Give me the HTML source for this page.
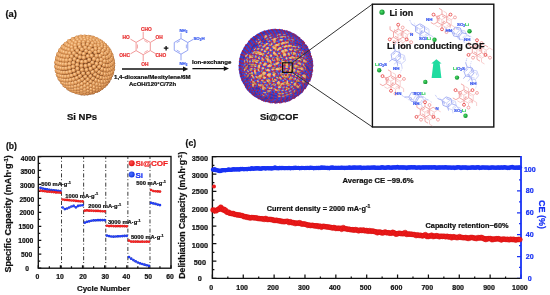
<!DOCTYPE html><html><head><meta charset="utf-8"><style>html,body{margin:0;padding:0;background:#fff;width:550px;height:295px;overflow:hidden}svg{display:block;filter:blur(0.3px)}text{font-family:"Liberation Sans",sans-serif;font-weight:bold}</style></head><body>
<svg width="550" height="295" viewBox="0 0 550 295">
<defs>
<radialGradient id="ballA" cx="42%" cy="38%" r="62%"><stop offset="0" stop-color="#fbd2a0"/><stop offset="0.45" stop-color="#eba868"/><stop offset="0.85" stop-color="#c88448"/><stop offset="1" stop-color="#9a5a2c"/></radialGradient>
<radialGradient id="ballB" cx="40%" cy="35%" r="65%"><stop offset="0" stop-color="#f8c88a"/><stop offset="0.6" stop-color="#e8a860"/><stop offset="1" stop-color="#b07040"/></radialGradient>
<radialGradient id="gdot" cx="40%" cy="40%" r="60%"><stop offset="0" stop-color="#4ee06a"/><stop offset="1" stop-color="#0a8a2a"/></radialGradient>
<radialGradient id="rdot" cx="40%" cy="40%" r="60%"><stop offset="0" stop-color="#ff5050"/><stop offset="1" stop-color="#e01010"/></radialGradient>
<radialGradient id="bdot" cx="40%" cy="40%" r="60%"><stop offset="0" stop-color="#4a70ff"/><stop offset="1" stop-color="#1030e0"/></radialGradient>
<radialGradient id="edgeC" cx="50%" cy="50%" r="50%"><stop offset="0.6" stop-color="#302080" stop-opacity="0"/><stop offset="0.93" stop-color="#302080" stop-opacity="0.15"/><stop offset="1" stop-color="#201070" stop-opacity="0.4"/></radialGradient>
<radialGradient id="mk_r" cx="50%" cy="50%" r="50%"><stop offset="0" stop-color="#ff3030"/><stop offset="0.7" stop-color="#f01818"/><stop offset="1" stop-color="#c01010"/></radialGradient>
<radialGradient id="mk_b" cx="50%" cy="50%" r="50%"><stop offset="0" stop-color="#3050ff"/><stop offset="0.7" stop-color="#1832f4"/><stop offset="1" stop-color="#1028b8"/></radialGradient>
</defs>
<rect width="550" height="295" fill="#fff"/>
<text x="5.5" y="17.2" font-size="9.3" fill="#111" stroke="#111" stroke-width="0.22">(a)</text>
<text x="6" y="148.6" font-size="8.6" fill="#111" stroke="#111" stroke-width="0.22">(b)</text>
<text x="185.6" y="145.5" font-size="8.6" fill="#111" stroke="#111" stroke-width="0.22">(c)</text>
<circle cx="84.7" cy="65" r="29.9" fill="#7a4522"/>
<circle cx="84.2" cy="93.4" r="2.2" fill="url(#ballA)"/>
<circle cx="63.0" cy="46.7" r="2.2" fill="url(#ballA)"/>
<circle cx="77.0" cy="37.7" r="2.2" fill="url(#ballA)"/>
<circle cx="59.5" cy="78.1" r="2.2" fill="url(#ballA)"/>
<circle cx="105.6" cy="84.2" r="2.2" fill="url(#ballA)"/>
<circle cx="113.0" cy="63.4" r="2.2" fill="url(#ballA)"/>
<circle cx="60.5" cy="50.2" r="2.2" fill="url(#ballA)"/>
<circle cx="98.2" cy="90.0" r="2.2" fill="url(#ballA)"/>
<circle cx="108.4" cy="49.4" r="2.2" fill="url(#ballA)"/>
<circle cx="104.9" cy="45.1" r="2.2" fill="url(#ballA)"/>
<circle cx="80.9" cy="36.8" r="2.2" fill="url(#ballA)"/>
<circle cx="93.3" cy="37.9" r="2.2" fill="url(#ballA)"/>
<circle cx="112.0" cy="72.8" r="2.2" fill="url(#ballA)"/>
<circle cx="58.5" cy="54.0" r="2.2" fill="url(#ballA)"/>
<circle cx="57.9" cy="74.5" r="2.2" fill="url(#ballA)"/>
<circle cx="57.2" cy="58.0" r="2.2" fill="url(#ballA)"/>
<circle cx="111.1" cy="54.4" r="2.2" fill="url(#ballA)"/>
<circle cx="56.8" cy="70.5" r="2.2" fill="url(#ballA)"/>
<circle cx="56.4" cy="62.2" r="2.2" fill="url(#ballA)"/>
<circle cx="100.8" cy="41.6" r="2.2" fill="url(#ballA)"/>
<circle cx="71.2" cy="90.0" r="2.2" fill="url(#ballA)"/>
<circle cx="56.3" cy="66.4" r="2.2" fill="url(#ballA)"/>
<circle cx="64.5" cy="85.0" r="2.2" fill="url(#ballA)"/>
<circle cx="107.9" cy="81.3" r="2.2" fill="url(#ballA)"/>
<circle cx="84.8" cy="36.6" r="2.2" fill="url(#ballA)"/>
<circle cx="92.9" cy="92.2" r="2.2" fill="url(#ballA)"/>
<circle cx="101.3" cy="88.1" r="2.2" fill="url(#ballA)"/>
<circle cx="112.8" cy="69.2" r="2.2" fill="url(#ballA)"/>
<circle cx="112.6" cy="59.9" r="2.2" fill="url(#ballA)"/>
<circle cx="76.2" cy="92.1" r="2.2" fill="url(#ballA)"/>
<circle cx="87.3" cy="93.3" r="2.2" fill="url(#ballA)"/>
<circle cx="96.4" cy="39.2" r="2.2" fill="url(#ballA)"/>
<circle cx="81.6" cy="93.2" r="2.2" fill="url(#ballA)"/>
<circle cx="62.1" cy="82.1" r="2.2" fill="url(#ballA)"/>
<circle cx="109.8" cy="78.1" r="2.2" fill="url(#ballA)"/>
<circle cx="88.6" cy="36.9" r="2.2" fill="url(#ballA)"/>
<circle cx="69.1" cy="41.3" r="2.2" fill="url(#ballA)"/>
<circle cx="68.4" cy="88.2" r="2.2" fill="url(#ballA)"/>
<circle cx="106.6" cy="47.1" r="2.2" fill="url(#ballA)"/>
<circle cx="72.8" cy="39.3" r="2.2" fill="url(#ballA)"/>
<circle cx="65.8" cy="43.9" r="2.2" fill="url(#ballA)"/>
<circle cx="109.6" cy="51.5" r="2.2" fill="url(#ballA)"/>
<circle cx="104.0" cy="85.7" r="2.2" fill="url(#ballA)"/>
<circle cx="96.1" cy="90.9" r="2.2" fill="url(#ballA)"/>
<circle cx="113.0" cy="65.5" r="2.2" fill="url(#ballA)"/>
<circle cx="62.9" cy="46.9" r="2.2" fill="url(#ballA)"/>
<circle cx="76.6" cy="37.9" r="2.2" fill="url(#ballA)"/>
<circle cx="60.0" cy="78.7" r="2.2" fill="url(#ballA)"/>
<circle cx="103.0" cy="43.4" r="2.2" fill="url(#ballA)"/>
<circle cx="60.5" cy="50.4" r="2.2" fill="url(#ballA)"/>
<circle cx="111.2" cy="74.7" r="2.2" fill="url(#ballA)"/>
<circle cx="111.6" cy="56.5" r="2.2" fill="url(#ballA)"/>
<circle cx="58.6" cy="54.2" r="2.2" fill="url(#ballA)"/>
<circle cx="80.4" cy="37.1" r="2.2" fill="url(#ballA)"/>
<circle cx="58.4" cy="75.0" r="2.2" fill="url(#ballA)"/>
<circle cx="91.9" cy="37.8" r="2.2" fill="url(#ballA)"/>
<circle cx="73.3" cy="90.7" r="2.2" fill="url(#ballA)"/>
<circle cx="57.3" cy="58.3" r="2.2" fill="url(#ballA)"/>
<circle cx="90.5" cy="92.5" r="2.2" fill="url(#ballA)"/>
<circle cx="57.2" cy="71.0" r="2.2" fill="url(#ballA)"/>
<circle cx="106.4" cy="82.9" r="2.2" fill="url(#ballA)"/>
<circle cx="98.9" cy="40.7" r="2.2" fill="url(#ballA)"/>
<circle cx="56.7" cy="62.5" r="2.2" fill="url(#ballA)"/>
<circle cx="56.6" cy="66.8" r="2.2" fill="url(#ballA)"/>
<circle cx="65.7" cy="85.8" r="2.2" fill="url(#ballA)"/>
<circle cx="99.2" cy="89.0" r="2.2" fill="url(#ballA)"/>
<circle cx="78.7" cy="92.4" r="2.2" fill="url(#ballA)"/>
<circle cx="84.6" cy="93.1" r="2.2" fill="url(#ballA)"/>
<circle cx="112.6" cy="61.9" r="2.2" fill="url(#ballA)"/>
<circle cx="84.2" cy="37.0" r="2.2" fill="url(#ballA)"/>
<circle cx="112.1" cy="71.1" r="2.2" fill="url(#ballA)"/>
<circle cx="108.4" cy="79.7" r="2.2" fill="url(#ballA)"/>
<circle cx="107.6" cy="49.1" r="2.2" fill="url(#ballA)"/>
<circle cx="63.3" cy="82.8" r="2.2" fill="url(#ballA)"/>
<circle cx="94.8" cy="39.1" r="2.2" fill="url(#ballA)"/>
<circle cx="110.0" cy="53.5" r="2.2" fill="url(#ballA)"/>
<circle cx="70.4" cy="88.8" r="2.2" fill="url(#ballA)"/>
<circle cx="104.4" cy="45.4" r="2.2" fill="url(#ballA)"/>
<circle cx="93.6" cy="91.3" r="2.2" fill="url(#ballA)"/>
<circle cx="102.0" cy="86.7" r="2.2" fill="url(#ballA)"/>
<circle cx="87.8" cy="37.4" r="2.2" fill="url(#ballA)"/>
<circle cx="112.3" cy="67.3" r="2.2" fill="url(#ballA)"/>
<circle cx="69.5" cy="41.9" r="2.2" fill="url(#ballA)"/>
<circle cx="66.2" cy="44.4" r="2.2" fill="url(#ballA)"/>
<circle cx="73.0" cy="39.9" r="2.2" fill="url(#ballA)"/>
<circle cx="63.4" cy="47.4" r="2.2" fill="url(#ballA)"/>
<circle cx="61.1" cy="79.4" r="2.2" fill="url(#ballA)"/>
<circle cx="111.5" cy="58.4" r="2.2" fill="url(#ballA)"/>
<circle cx="109.9" cy="76.3" r="2.2" fill="url(#ballA)"/>
<circle cx="100.8" cy="42.6" r="2.2" fill="url(#ballA)"/>
<circle cx="61.1" cy="50.9" r="2.2" fill="url(#ballA)"/>
<circle cx="75.7" cy="91.0" r="2.2" fill="url(#ballA)"/>
<circle cx="87.7" cy="92.4" r="2.2" fill="url(#ballA)"/>
<circle cx="76.7" cy="38.6" r="2.2" fill="url(#ballA)"/>
<circle cx="81.6" cy="92.3" r="2.2" fill="url(#ballA)"/>
<circle cx="59.3" cy="54.7" r="2.2" fill="url(#ballA)"/>
<circle cx="59.4" cy="75.6" r="2.2" fill="url(#ballA)"/>
<circle cx="104.4" cy="84.0" r="2.2" fill="url(#ballA)"/>
<circle cx="58.1" cy="58.8" r="2.2" fill="url(#ballA)"/>
<circle cx="67.6" cy="86.3" r="2.2" fill="url(#ballA)"/>
<circle cx="58.2" cy="71.5" r="2.2" fill="url(#ballA)"/>
<circle cx="80.5" cy="38.0" r="2.2" fill="url(#ballA)"/>
<circle cx="96.7" cy="89.5" r="2.2" fill="url(#ballA)"/>
<circle cx="57.5" cy="63.0" r="2.2" fill="url(#ballA)"/>
<circle cx="57.5" cy="67.3" r="2.2" fill="url(#ballA)"/>
<circle cx="111.9" cy="63.6" r="2.2" fill="url(#ballA)"/>
<circle cx="90.9" cy="38.5" r="2.2" fill="url(#ballA)"/>
<circle cx="110.8" cy="72.6" r="2.2" fill="url(#ballA)"/>
<circle cx="97.0" cy="40.9" r="2.2" fill="url(#ballA)"/>
<circle cx="107.7" cy="50.9" r="2.2" fill="url(#ballA)"/>
<circle cx="106.5" cy="80.8" r="2.2" fill="url(#ballA)"/>
<circle cx="84.1" cy="38.1" r="2.2" fill="url(#ballA)"/>
<circle cx="65.0" cy="83.3" r="2.2" fill="url(#ballA)"/>
<circle cx="72.8" cy="89.1" r="2.2" fill="url(#ballA)"/>
<circle cx="90.8" cy="91.2" r="2.2" fill="url(#ballA)"/>
<circle cx="105.0" cy="47.3" r="2.2" fill="url(#ballA)"/>
<circle cx="109.7" cy="55.2" r="2.2" fill="url(#ballA)"/>
<circle cx="99.5" cy="87.3" r="2.2" fill="url(#ballA)"/>
<circle cx="84.7" cy="91.6" r="2.2" fill="url(#ballA)"/>
<circle cx="111.1" cy="68.8" r="2.2" fill="url(#ballA)"/>
<circle cx="78.5" cy="90.9" r="2.2" fill="url(#ballA)"/>
<circle cx="101.7" cy="44.6" r="2.2" fill="url(#ballA)"/>
<circle cx="62.8" cy="79.9" r="2.2" fill="url(#ballA)"/>
<circle cx="110.7" cy="60.0" r="2.2" fill="url(#ballA)"/>
<circle cx="67.2" cy="45.1" r="2.2" fill="url(#ballA)"/>
<circle cx="70.4" cy="42.7" r="2.2" fill="url(#ballA)"/>
<circle cx="108.0" cy="77.4" r="2.2" fill="url(#ballA)"/>
<circle cx="64.5" cy="48.1" r="2.2" fill="url(#ballA)"/>
<circle cx="73.9" cy="41.0" r="2.2" fill="url(#ballA)"/>
<circle cx="93.4" cy="40.2" r="2.2" fill="url(#ballA)"/>
<circle cx="62.2" cy="51.5" r="2.2" fill="url(#ballA)"/>
<circle cx="87.5" cy="38.9" r="2.2" fill="url(#ballA)"/>
<circle cx="69.9" cy="86.6" r="2.2" fill="url(#ballA)"/>
<circle cx="61.0" cy="76.1" r="2.2" fill="url(#ballA)"/>
<circle cx="102.0" cy="84.6" r="2.2" fill="url(#ballA)"/>
<circle cx="93.9" cy="89.5" r="2.2" fill="url(#ballA)"/>
<circle cx="60.4" cy="55.3" r="2.2" fill="url(#ballA)"/>
<circle cx="77.6" cy="39.9" r="2.2" fill="url(#ballA)"/>
<circle cx="59.3" cy="59.3" r="2.2" fill="url(#ballA)"/>
<circle cx="59.7" cy="72.0" r="2.2" fill="url(#ballA)"/>
<circle cx="58.8" cy="63.5" r="2.2" fill="url(#ballA)"/>
<circle cx="110.6" cy="64.9" r="2.2" fill="url(#ballA)"/>
<circle cx="58.9" cy="67.8" r="2.2" fill="url(#ballA)"/>
<circle cx="98.3" cy="43.0" r="2.2" fill="url(#ballA)"/>
<circle cx="109.0" cy="73.7" r="2.2" fill="url(#ballA)"/>
<circle cx="75.5" cy="89.0" r="2.2" fill="url(#ballA)"/>
<circle cx="87.8" cy="90.5" r="2.2" fill="url(#ballA)"/>
<circle cx="81.4" cy="39.6" r="2.2" fill="url(#ballA)"/>
<circle cx="107.0" cy="52.5" r="2.2" fill="url(#ballA)"/>
<circle cx="81.5" cy="90.3" r="2.2" fill="url(#ballA)"/>
<circle cx="67.2" cy="83.6" r="2.2" fill="url(#ballA)"/>
<circle cx="104.2" cy="81.5" r="2.2" fill="url(#ballA)"/>
<circle cx="104.5" cy="49.1" r="2.2" fill="url(#ballA)"/>
<circle cx="108.6" cy="56.6" r="2.2" fill="url(#ballA)"/>
<circle cx="96.7" cy="87.3" r="2.2" fill="url(#ballA)"/>
<circle cx="109.3" cy="69.8" r="2.2" fill="url(#ballA)"/>
<circle cx="90.4" cy="40.6" r="2.2" fill="url(#ballA)"/>
<circle cx="64.9" cy="80.2" r="2.2" fill="url(#ballA)"/>
<circle cx="109.3" cy="61.1" r="2.2" fill="url(#ballA)"/>
<circle cx="101.5" cy="46.7" r="2.2" fill="url(#ballA)"/>
<circle cx="105.8" cy="78.0" r="2.2" fill="url(#ballA)"/>
<circle cx="95.1" cy="42.5" r="2.2" fill="url(#ballA)"/>
<circle cx="85.0" cy="40.2" r="2.2" fill="url(#ballA)"/>
<circle cx="72.5" cy="86.5" r="2.2" fill="url(#ballA)"/>
<circle cx="90.8" cy="88.9" r="2.2" fill="url(#ballA)"/>
<circle cx="69.0" cy="46.0" r="2.2" fill="url(#ballA)"/>
<circle cx="66.2" cy="48.8" r="2.2" fill="url(#ballA)"/>
<circle cx="72.2" cy="43.9" r="2.2" fill="url(#ballA)"/>
<circle cx="99.3" cy="84.7" r="2.2" fill="url(#ballA)"/>
<circle cx="63.0" cy="76.4" r="2.2" fill="url(#ballA)"/>
<circle cx="63.9" cy="52.1" r="2.2" fill="url(#ballA)"/>
<circle cx="75.8" cy="42.4" r="2.2" fill="url(#ballA)"/>
<circle cx="78.4" cy="88.5" r="2.2" fill="url(#ballA)"/>
<circle cx="84.6" cy="89.3" r="2.2" fill="url(#ballA)"/>
<circle cx="62.2" cy="55.8" r="2.2" fill="url(#ballA)"/>
<circle cx="61.7" cy="72.4" r="2.2" fill="url(#ballA)"/>
<circle cx="61.1" cy="59.8" r="2.2" fill="url(#ballA)"/>
<circle cx="108.8" cy="65.7" r="2.2" fill="url(#ballA)"/>
<circle cx="60.9" cy="68.2" r="2.2" fill="url(#ballA)"/>
<circle cx="60.7" cy="64.0" r="2.2" fill="url(#ballA)"/>
<circle cx="106.8" cy="74.2" r="2.2" fill="url(#ballA)"/>
<circle cx="69.8" cy="83.6" r="2.2" fill="url(#ballA)"/>
<circle cx="98.3" cy="45.5" r="2.2" fill="url(#ballA)"/>
<circle cx="79.6" cy="41.8" r="2.2" fill="url(#ballA)"/>
<circle cx="101.5" cy="81.6" r="2.2" fill="url(#ballA)"/>
<circle cx="93.7" cy="86.8" r="2.2" fill="url(#ballA)"/>
<circle cx="105.2" cy="53.6" r="2.2" fill="url(#ballA)"/>
<circle cx="106.8" cy="57.4" r="2.2" fill="url(#ballA)"/>
<circle cx="88.3" cy="42.0" r="2.2" fill="url(#ballA)"/>
<circle cx="102.8" cy="50.6" r="2.2" fill="url(#ballA)"/>
<circle cx="107.2" cy="70.2" r="2.2" fill="url(#ballA)"/>
<circle cx="75.4" cy="86.1" r="2.2" fill="url(#ballA)"/>
<circle cx="92.5" cy="43.3" r="2.2" fill="url(#ballA)"/>
<circle cx="67.5" cy="80.2" r="2.2" fill="url(#ballA)"/>
<circle cx="87.7" cy="87.7" r="2.2" fill="url(#ballA)"/>
<circle cx="107.2" cy="61.5" r="2.2" fill="url(#ballA)"/>
<circle cx="83.5" cy="42.3" r="2.2" fill="url(#ballA)"/>
<circle cx="103.3" cy="78.1" r="2.2" fill="url(#ballA)"/>
<circle cx="81.5" cy="87.5" r="2.2" fill="url(#ballA)"/>
<circle cx="96.4" cy="84.2" r="2.2" fill="url(#ballA)"/>
<circle cx="65.5" cy="76.5" r="2.2" fill="url(#ballA)"/>
<circle cx="68.7" cy="49.6" r="2.2" fill="url(#ballA)"/>
<circle cx="71.7" cy="47.1" r="2.2" fill="url(#ballA)"/>
<circle cx="99.6" cy="48.7" r="2.2" fill="url(#ballA)"/>
<circle cx="66.4" cy="52.7" r="2.2" fill="url(#ballA)"/>
<circle cx="75.1" cy="45.3" r="2.2" fill="url(#ballA)"/>
<circle cx="64.1" cy="72.5" r="2.2" fill="url(#ballA)"/>
<circle cx="64.6" cy="56.3" r="2.2" fill="url(#ballA)"/>
<circle cx="95.2" cy="45.8" r="2.2" fill="url(#ballA)"/>
<circle cx="106.5" cy="65.8" r="2.2" fill="url(#ballA)"/>
<circle cx="72.7" cy="83.2" r="2.2" fill="url(#ballA)"/>
<circle cx="63.5" cy="60.2" r="2.2" fill="url(#ballA)"/>
<circle cx="104.4" cy="74.2" r="2.2" fill="url(#ballA)"/>
<circle cx="63.3" cy="68.4" r="2.2" fill="url(#ballA)"/>
<circle cx="63.1" cy="64.3" r="2.2" fill="url(#ballA)"/>
<circle cx="90.7" cy="85.7" r="2.2" fill="url(#ballA)"/>
<circle cx="79.0" cy="44.4" r="2.2" fill="url(#ballA)"/>
<circle cx="98.7" cy="81.1" r="2.2" fill="url(#ballA)"/>
<circle cx="78.5" cy="85.2" r="2.2" fill="url(#ballA)"/>
<circle cx="84.6" cy="86.0" r="2.2" fill="url(#ballA)"/>
<circle cx="87.5" cy="44.4" r="2.2" fill="url(#ballA)"/>
<circle cx="104.0" cy="57.3" r="2.2" fill="url(#ballA)"/>
<circle cx="70.3" cy="79.9" r="2.2" fill="url(#ballA)"/>
<circle cx="102.1" cy="53.9" r="2.2" fill="url(#ballA)"/>
<circle cx="104.7" cy="69.9" r="2.2" fill="url(#ballA)"/>
<circle cx="83.5" cy="44.8" r="2.2" fill="url(#ballA)"/>
<circle cx="100.5" cy="77.6" r="2.2" fill="url(#ballA)"/>
<circle cx="104.5" cy="61.2" r="2.2" fill="url(#ballA)"/>
<circle cx="91.0" cy="45.9" r="2.2" fill="url(#ballA)"/>
<circle cx="93.4" cy="83.1" r="2.2" fill="url(#ballA)"/>
<circle cx="68.4" cy="76.2" r="2.2" fill="url(#ballA)"/>
<circle cx="98.8" cy="51.4" r="2.2" fill="url(#ballA)"/>
<circle cx="95.6" cy="48.8" r="2.2" fill="url(#ballA)"/>
<circle cx="75.8" cy="82.4" r="2.2" fill="url(#ballA)"/>
<circle cx="87.6" cy="84.0" r="2.2" fill="url(#ballA)"/>
<circle cx="72.3" cy="50.3" r="2.2" fill="url(#ballA)"/>
<circle cx="67.0" cy="72.4" r="2.2" fill="url(#ballA)"/>
<circle cx="103.9" cy="65.1" r="2.2" fill="url(#ballA)"/>
<circle cx="69.6" cy="53.2" r="2.2" fill="url(#ballA)"/>
<circle cx="75.6" cy="48.2" r="2.2" fill="url(#ballA)"/>
<circle cx="81.7" cy="83.8" r="2.2" fill="url(#ballA)"/>
<circle cx="101.7" cy="73.5" r="2.2" fill="url(#ballA)"/>
<circle cx="67.7" cy="56.5" r="2.2" fill="url(#ballA)"/>
<circle cx="66.1" cy="68.3" r="2.2" fill="url(#ballA)"/>
<circle cx="66.5" cy="60.3" r="2.2" fill="url(#ballA)"/>
<circle cx="66.0" cy="64.3" r="2.2" fill="url(#ballA)"/>
<circle cx="95.8" cy="80.0" r="2.2" fill="url(#ballA)"/>
<circle cx="79.8" cy="47.0" r="2.2" fill="url(#ballA)"/>
<circle cx="73.4" cy="79.1" r="2.2" fill="url(#ballA)"/>
<circle cx="102.0" cy="68.9" r="2.2" fill="url(#ballA)"/>
<circle cx="99.9" cy="55.9" r="2.2" fill="url(#ballA)"/>
<circle cx="90.5" cy="81.5" r="2.2" fill="url(#ballA)"/>
<circle cx="85.3" cy="47.6" r="2.2" fill="url(#ballA)"/>
<circle cx="101.2" cy="59.6" r="2.2" fill="url(#ballA)"/>
<circle cx="89.3" cy="48.3" r="2.2" fill="url(#ballA)"/>
<circle cx="97.8" cy="76.4" r="2.2" fill="url(#ballA)"/>
<circle cx="79.0" cy="81.0" r="2.2" fill="url(#ballA)"/>
<circle cx="71.5" cy="75.6" r="2.2" fill="url(#ballA)"/>
<circle cx="84.8" cy="81.8" r="2.2" fill="url(#ballA)"/>
<circle cx="92.4" cy="50.1" r="2.2" fill="url(#ballA)"/>
<circle cx="95.5" cy="52.4" r="2.2" fill="url(#ballA)"/>
<circle cx="100.9" cy="63.4" r="2.2" fill="url(#ballA)"/>
<circle cx="70.1" cy="71.8" r="2.2" fill="url(#ballA)"/>
<circle cx="77.3" cy="50.8" r="2.2" fill="url(#ballA)"/>
<circle cx="99.0" cy="72.1" r="2.2" fill="url(#ballA)"/>
<circle cx="74.0" cy="53.3" r="2.2" fill="url(#ballA)"/>
<circle cx="82.0" cy="49.4" r="2.2" fill="url(#ballA)"/>
<circle cx="93.0" cy="78.4" r="2.2" fill="url(#ballA)"/>
<circle cx="71.6" cy="56.4" r="2.2" fill="url(#ballA)"/>
<circle cx="69.4" cy="67.8" r="2.2" fill="url(#ballA)"/>
<circle cx="70.1" cy="60.0" r="2.2" fill="url(#ballA)"/>
<circle cx="69.4" cy="63.9" r="2.2" fill="url(#ballA)"/>
<circle cx="76.7" cy="77.9" r="2.2" fill="url(#ballA)"/>
<circle cx="96.5" cy="55.9" r="2.2" fill="url(#ballA)"/>
<circle cx="99.2" cy="66.9" r="2.2" fill="url(#ballA)"/>
<circle cx="87.7" cy="79.3" r="2.2" fill="url(#ballA)"/>
<circle cx="82.2" cy="79.1" r="2.2" fill="url(#ballA)"/>
<circle cx="95.1" cy="74.5" r="2.2" fill="url(#ballA)"/>
<circle cx="86.2" cy="51.1" r="2.2" fill="url(#ballA)"/>
<circle cx="97.6" cy="60.2" r="2.2" fill="url(#ballA)"/>
<circle cx="74.9" cy="74.4" r="2.2" fill="url(#ballA)"/>
<circle cx="89.8" cy="52.5" r="2.2" fill="url(#ballA)"/>
<circle cx="80.1" cy="52.9" r="2.2" fill="url(#ballA)"/>
<circle cx="96.4" cy="69.9" r="2.2" fill="url(#ballA)"/>
<circle cx="90.4" cy="76.1" r="2.2" fill="url(#ballA)"/>
<circle cx="73.6" cy="70.6" r="2.2" fill="url(#ballA)"/>
<circle cx="76.6" cy="55.7" r="2.2" fill="url(#ballA)"/>
<circle cx="80.0" cy="76.0" r="2.2" fill="url(#ballA)"/>
<circle cx="96.6" cy="63.9" r="2.2" fill="url(#ballA)"/>
<circle cx="74.5" cy="59.1" r="2.2" fill="url(#ballA)"/>
<circle cx="73.1" cy="66.8" r="2.2" fill="url(#ballA)"/>
<circle cx="85.3" cy="76.6" r="2.2" fill="url(#ballA)"/>
<circle cx="91.7" cy="55.8" r="2.2" fill="url(#ballA)"/>
<circle cx="73.4" cy="62.9" r="2.2" fill="url(#ballA)"/>
<circle cx="83.9" cy="53.9" r="2.2" fill="url(#ballA)"/>
<circle cx="94.1" cy="59.0" r="2.2" fill="url(#ballA)"/>
<circle cx="92.6" cy="72.0" r="2.2" fill="url(#ballA)"/>
<circle cx="78.4" cy="72.5" r="2.2" fill="url(#ballA)"/>
<circle cx="94.1" cy="66.8" r="2.2" fill="url(#ballA)"/>
<circle cx="87.9" cy="56.3" r="2.2" fill="url(#ballA)"/>
<circle cx="80.0" cy="57.3" r="2.2" fill="url(#ballA)"/>
<circle cx="88.2" cy="73.2" r="2.2" fill="url(#ballA)"/>
<circle cx="83.3" cy="73.4" r="2.2" fill="url(#ballA)"/>
<circle cx="77.4" cy="68.8" r="2.2" fill="url(#ballA)"/>
<circle cx="92.4" cy="62.6" r="2.2" fill="url(#ballA)"/>
<circle cx="78.0" cy="61.0" r="2.2" fill="url(#ballA)"/>
<circle cx="77.2" cy="64.9" r="2.2" fill="url(#ballA)"/>
<circle cx="83.8" cy="57.7" r="2.2" fill="url(#ballA)"/>
<circle cx="90.6" cy="68.8" r="2.2" fill="url(#ballA)"/>
<circle cx="89.2" cy="59.9" r="2.2" fill="url(#ballA)"/>
<circle cx="82.0" cy="69.9" r="2.2" fill="url(#ballA)"/>
<circle cx="86.5" cy="69.9" r="2.2" fill="url(#ballA)"/>
<circle cx="89.4" cy="64.9" r="2.2" fill="url(#ballA)"/>
<circle cx="81.9" cy="61.9" r="2.2" fill="url(#ballA)"/>
<circle cx="85.7" cy="61.6" r="2.2" fill="url(#ballA)"/>
<circle cx="81.4" cy="66.0" r="2.2" fill="url(#ballA)"/>
<circle cx="85.6" cy="66.0" r="2.2" fill="url(#ballA)"/>
<text x="67.0" y="119.8" font-size="9.5" fill="#111" stroke="#111" stroke-width="0.22">Si NPs</text>
<path d="M143.20 38.30L150.30 42.40L150.30 50.60L143.20 54.70L136.10 50.60L136.10 42.40Z" stroke="#f29a9a" stroke-width="1.0" fill="none"/>
<path d="M144.34 40.56L147.77 42.54M147.77 50.46L144.34 52.44M137.48 48.48L137.48 44.52" stroke="#f29a9a" stroke-width="0.85" fill="none"/>
<path d="M143.20 38.30L143.20 31.80M150.30 42.40L155.93 39.15M150.30 50.60L155.93 53.85M143.20 54.70L143.20 61.20M136.10 50.60L130.47 53.85M136.10 42.40L130.47 39.15" stroke="#f29a9a" stroke-width="1.0" fill="none"/>
<g font-size="4.8" fill="#e83030" stroke="#e83030" stroke-width="0.22"><text x="141" y="30.6">CHO</text><text x="122.6" y="39.4">HO</text><text x="155.6" y="39.4">OH</text><text x="119.2" y="56.5">OHC</text><text x="155.6" y="56.5">CHO</text><text x="141.3" y="65.5">OH</text></g>
<path d="M163.8 48.2H168.4M166.1 45.9V50.5" stroke="#111" stroke-width="1.3"/>
<path d="M181.00 38.60L187.75 42.50L187.75 50.30L181.00 54.20L174.25 50.30L174.25 42.50Z" stroke="#8899f2" stroke-width="0.9" fill="none"/>
<path d="M186.37 44.54L186.37 48.26M179.93 51.98L176.70 50.12M176.70 42.68L179.93 40.82" stroke="#8899f2" stroke-width="0.8" fill="none"/>
<path d="M181 38.6V33M187.75 42.5L193 39.5M181 54.2V60.3" stroke="#8899f2" stroke-width="0.9" fill="none"/>
<g font-size="4.4" fill="#3a5cf0" stroke="#3a5cf0" stroke-width="0.22"><text x="179.4" y="32.2">NH<tspan font-size="3" dy="0.8">2</tspan></text><text x="193.4" y="40.3">SO<tspan font-size="3" dy="0.8">3</tspan><tspan dy="-0.8">H</tspan></text><text x="179.4" y="65">NH<tspan font-size="3" dy="0.8">2</tspan></text></g>
<path d="M122 69H184.5" stroke="#111" stroke-width="1.3"/><path d="M183 66.6L188.3 69L183 71.4Z" fill="#111"/>
<path d="M192.4 68.6H225" stroke="#111" stroke-width="1.3"/><path d="M223.8 66.3L229 68.6L223.8 70.9Z" fill="#111"/>
<text x="114" y="78.7" font-size="6.1" fill="#111" stroke="#111" stroke-width="0.22">1,4-dioxane/Mesitylene/6M</text>
<text x="129" y="85.6" font-size="6" fill="#111" stroke="#111" stroke-width="0.22">AcOH/120°C/72h</text>
<text x="192.1" y="63.8" font-size="6.1" fill="#111" stroke="#111" stroke-width="0.22">Ion-exchange</text>
<circle cx="276" cy="66.2" r="36.8" fill="#3a36b0"/>
<circle cx="284.3" cy="36.5" r="2.55" fill="url(#ballB)"/>
<circle cx="258.3" cy="41.0" r="2.55" fill="url(#ballB)"/>
<circle cx="263.6" cy="94.3" r="2.55" fill="url(#ballB)"/>
<circle cx="246.6" cy="75.1" r="2.55" fill="url(#ballB)"/>
<circle cx="302.9" cy="80.9" r="2.55" fill="url(#ballB)"/>
<circle cx="292.0" cy="40.1" r="2.55" fill="url(#ballB)"/>
<circle cx="290.2" cy="93.2" r="2.55" fill="url(#ballB)"/>
<circle cx="245.8" cy="70.5" r="2.55" fill="url(#ballB)"/>
<circle cx="245.6" cy="65.9" r="2.55" fill="url(#ballB)"/>
<circle cx="283.8" cy="95.6" r="2.55" fill="url(#ballB)"/>
<circle cx="266.5" cy="37.4" r="2.55" fill="url(#ballB)"/>
<circle cx="246.2" cy="61.4" r="2.55" fill="url(#ballB)"/>
<circle cx="247.5" cy="56.4" r="2.55" fill="url(#ballB)"/>
<circle cx="298.7" cy="86.0" r="2.55" fill="url(#ballB)"/>
<circle cx="279.1" cy="36.2" r="2.55" fill="url(#ballB)"/>
<circle cx="287.3" cy="38.3" r="2.55" fill="url(#ballB)"/>
<circle cx="304.0" cy="76.9" r="2.55" fill="url(#ballB)"/>
<circle cx="305.4" cy="60.7" r="2.55" fill="url(#ballB)"/>
<circle cx="293.2" cy="90.6" r="2.55" fill="url(#ballB)"/>
<circle cx="270.9" cy="36.8" r="2.55" fill="url(#ballB)"/>
<circle cx="266.5" cy="94.1" r="2.55" fill="url(#ballB)"/>
<circle cx="279.9" cy="95.3" r="2.55" fill="url(#ballB)"/>
<circle cx="286.8" cy="93.5" r="2.55" fill="url(#ballB)"/>
<circle cx="282.3" cy="37.7" r="2.55" fill="url(#ballB)"/>
<circle cx="254.2" cy="85.0" r="2.55" fill="url(#ballB)"/>
<circle cx="301.3" cy="52.6" r="2.55" fill="url(#ballB)"/>
<circle cx="303.3" cy="57.1" r="2.55" fill="url(#ballB)"/>
<circle cx="298.0" cy="48.0" r="2.55" fill="url(#ballB)"/>
<circle cx="249.1" cy="57.0" r="2.55" fill="url(#ballB)"/>
<circle cx="289.9" cy="90.8" r="2.55" fill="url(#ballB)"/>
<circle cx="252.2" cy="81.2" r="2.55" fill="url(#ballB)"/>
<circle cx="283.4" cy="93.2" r="2.55" fill="url(#ballB)"/>
<circle cx="303.7" cy="68.5" r="2.55" fill="url(#ballB)"/>
<circle cx="271.0" cy="39.1" r="2.55" fill="url(#ballB)"/>
<circle cx="260.4" cy="43.7" r="2.55" fill="url(#ballB)"/>
<circle cx="292.6" cy="87.6" r="2.55" fill="url(#ballB)"/>
<circle cx="249.6" cy="71.9" r="2.55" fill="url(#ballB)"/>
<circle cx="286.3" cy="90.7" r="2.55" fill="url(#ballB)"/>
<circle cx="302.3" cy="64.7" r="2.55" fill="url(#ballB)"/>
<circle cx="250.0" cy="62.5" r="2.55" fill="url(#ballB)"/>
<circle cx="298.7" cy="79.4" r="2.55" fill="url(#ballB)"/>
<circle cx="280.0" cy="92.1" r="2.55" fill="url(#ballB)"/>
<circle cx="275.1" cy="40.0" r="2.55" fill="url(#ballB)"/>
<circle cx="281.5" cy="40.6" r="2.55" fill="url(#ballB)"/>
<circle cx="251.1" cy="58.5" r="2.55" fill="url(#ballB)"/>
<circle cx="254.6" cy="80.9" r="2.55" fill="url(#ballB)"/>
<circle cx="253.1" cy="54.2" r="2.55" fill="url(#ballB)"/>
<circle cx="262.9" cy="88.3" r="2.55" fill="url(#ballB)"/>
<circle cx="294.5" cy="84.0" r="2.55" fill="url(#ballB)"/>
<circle cx="294.1" cy="48.1" r="2.55" fill="url(#ballB)"/>
<circle cx="301.3" cy="69.8" r="2.55" fill="url(#ballB)"/>
<circle cx="286.5" cy="42.9" r="2.55" fill="url(#ballB)"/>
<circle cx="255.8" cy="50.6" r="2.55" fill="url(#ballB)"/>
<circle cx="269.0" cy="41.7" r="2.55" fill="url(#ballB)"/>
<circle cx="253.1" cy="76.7" r="2.55" fill="url(#ballB)"/>
<circle cx="288.9" cy="87.4" r="2.55" fill="url(#ballB)"/>
<circle cx="259.3" cy="47.8" r="2.55" fill="url(#ballB)"/>
<circle cx="269.4" cy="90.1" r="2.55" fill="url(#ballB)"/>
<circle cx="299.0" cy="75.2" r="2.55" fill="url(#ballB)"/>
<circle cx="282.8" cy="89.6" r="2.55" fill="url(#ballB)"/>
<circle cx="252.5" cy="72.2" r="2.55" fill="url(#ballB)"/>
<circle cx="276.0" cy="90.5" r="2.55" fill="url(#ballB)"/>
<circle cx="260.3" cy="84.7" r="2.55" fill="url(#ballB)"/>
<circle cx="289.8" cy="46.3" r="2.55" fill="url(#ballB)"/>
<circle cx="273.2" cy="42.3" r="2.55" fill="url(#ballB)"/>
<circle cx="252.0" cy="67.9" r="2.55" fill="url(#ballB)"/>
<circle cx="295.6" cy="79.9" r="2.55" fill="url(#ballB)"/>
<circle cx="299.3" cy="60.7" r="2.55" fill="url(#ballB)"/>
<circle cx="278.4" cy="42.4" r="2.55" fill="url(#ballB)"/>
<circle cx="263.4" cy="46.0" r="2.55" fill="url(#ballB)"/>
<circle cx="297.4" cy="55.9" r="2.55" fill="url(#ballB)"/>
<circle cx="283.3" cy="43.7" r="2.55" fill="url(#ballB)"/>
<circle cx="299.5" cy="65.2" r="2.55" fill="url(#ballB)"/>
<circle cx="295.0" cy="52.5" r="2.55" fill="url(#ballB)"/>
<circle cx="257.7" cy="80.9" r="2.55" fill="url(#ballB)"/>
<circle cx="253.0" cy="62.9" r="2.55" fill="url(#ballB)"/>
<circle cx="291.0" cy="83.9" r="2.55" fill="url(#ballB)"/>
<circle cx="266.2" cy="86.9" r="2.55" fill="url(#ballB)"/>
<circle cx="254.4" cy="58.9" r="2.55" fill="url(#ballB)"/>
<circle cx="298.4" cy="70.4" r="2.55" fill="url(#ballB)"/>
<circle cx="267.7" cy="44.9" r="2.55" fill="url(#ballB)"/>
<circle cx="286.0" cy="86.4" r="2.55" fill="url(#ballB)"/>
<circle cx="256.5" cy="55.3" r="2.55" fill="url(#ballB)"/>
<circle cx="272.8" cy="88.2" r="2.55" fill="url(#ballB)"/>
<circle cx="279.2" cy="88.1" r="2.55" fill="url(#ballB)"/>
<circle cx="256.4" cy="76.5" r="2.55" fill="url(#ballB)"/>
<circle cx="296.0" cy="75.3" r="2.55" fill="url(#ballB)"/>
<circle cx="291.1" cy="50.4" r="2.55" fill="url(#ballB)"/>
<circle cx="259.6" cy="52.1" r="2.55" fill="url(#ballB)"/>
<circle cx="263.6" cy="83.7" r="2.55" fill="url(#ballB)"/>
<circle cx="285.8" cy="47.1" r="2.55" fill="url(#ballB)"/>
<circle cx="255.7" cy="72.0" r="2.55" fill="url(#ballB)"/>
<circle cx="272.8" cy="45.6" r="2.55" fill="url(#ballB)"/>
<circle cx="263.3" cy="49.7" r="2.55" fill="url(#ballB)"/>
<circle cx="277.3" cy="45.5" r="2.55" fill="url(#ballB)"/>
<circle cx="292.4" cy="78.8" r="2.55" fill="url(#ballB)"/>
<circle cx="255.7" cy="67.6" r="2.55" fill="url(#ballB)"/>
<circle cx="295.6" cy="61.0" r="2.55" fill="url(#ballB)"/>
<circle cx="288.0" cy="82.5" r="2.55" fill="url(#ballB)"/>
<circle cx="296.2" cy="65.3" r="2.55" fill="url(#ballB)"/>
<circle cx="269.6" cy="85.3" r="2.55" fill="url(#ballB)"/>
<circle cx="293.6" cy="56.8" r="2.55" fill="url(#ballB)"/>
<circle cx="261.6" cy="79.9" r="2.55" fill="url(#ballB)"/>
<circle cx="282.4" cy="84.7" r="2.55" fill="url(#ballB)"/>
<circle cx="276.1" cy="85.8" r="2.55" fill="url(#ballB)"/>
<circle cx="281.1" cy="47.3" r="2.55" fill="url(#ballB)"/>
<circle cx="256.7" cy="63.4" r="2.55" fill="url(#ballB)"/>
<circle cx="295.1" cy="69.8" r="2.55" fill="url(#ballB)"/>
<circle cx="268.2" cy="48.6" r="2.55" fill="url(#ballB)"/>
<circle cx="258.4" cy="59.5" r="2.55" fill="url(#ballB)"/>
<circle cx="289.7" cy="53.8" r="2.55" fill="url(#ballB)"/>
<circle cx="286.2" cy="50.8" r="2.55" fill="url(#ballB)"/>
<circle cx="260.2" cy="75.7" r="2.55" fill="url(#ballB)"/>
<circle cx="292.5" cy="74.2" r="2.55" fill="url(#ballB)"/>
<circle cx="261.2" cy="55.6" r="2.55" fill="url(#ballB)"/>
<circle cx="267.4" cy="81.9" r="2.55" fill="url(#ballB)"/>
<circle cx="289.2" cy="77.7" r="2.55" fill="url(#ballB)"/>
<circle cx="264.8" cy="52.8" r="2.55" fill="url(#ballB)"/>
<circle cx="274.4" cy="49.3" r="2.55" fill="url(#ballB)"/>
<circle cx="259.7" cy="70.9" r="2.55" fill="url(#ballB)"/>
<circle cx="273.2" cy="82.8" r="2.55" fill="url(#ballB)"/>
<circle cx="284.5" cy="80.7" r="2.55" fill="url(#ballB)"/>
<circle cx="278.8" cy="82.5" r="2.55" fill="url(#ballB)"/>
<circle cx="292.2" cy="63.5" r="2.55" fill="url(#ballB)"/>
<circle cx="279.5" cy="50.2" r="2.55" fill="url(#ballB)"/>
<circle cx="290.7" cy="59.4" r="2.55" fill="url(#ballB)"/>
<circle cx="260.1" cy="66.7" r="2.55" fill="url(#ballB)"/>
<circle cx="270.0" cy="51.6" r="2.55" fill="url(#ballB)"/>
<circle cx="291.6" cy="68.3" r="2.55" fill="url(#ballB)"/>
<circle cx="282.6" cy="51.9" r="2.55" fill="url(#ballB)"/>
<circle cx="265.5" cy="77.9" r="2.55" fill="url(#ballB)"/>
<circle cx="261.5" cy="62.4" r="2.55" fill="url(#ballB)"/>
<circle cx="289.4" cy="72.1" r="2.55" fill="url(#ballB)"/>
<circle cx="263.6" cy="58.5" r="2.55" fill="url(#ballB)"/>
<circle cx="285.4" cy="55.1" r="2.55" fill="url(#ballB)"/>
<circle cx="270.8" cy="79.3" r="2.55" fill="url(#ballB)"/>
<circle cx="286.1" cy="75.4" r="2.55" fill="url(#ballB)"/>
<circle cx="264.6" cy="73.7" r="2.55" fill="url(#ballB)"/>
<circle cx="268.1" cy="55.5" r="2.55" fill="url(#ballB)"/>
<circle cx="287.0" cy="59.4" r="2.55" fill="url(#ballB)"/>
<circle cx="276.4" cy="79.0" r="2.55" fill="url(#ballB)"/>
<circle cx="275.2" cy="53.5" r="2.55" fill="url(#ballB)"/>
<circle cx="281.6" cy="77.5" r="2.55" fill="url(#ballB)"/>
<circle cx="263.8" cy="69.3" r="2.55" fill="url(#ballB)"/>
<circle cx="287.5" cy="64.4" r="2.55" fill="url(#ballB)"/>
<circle cx="269.3" cy="75.4" r="2.55" fill="url(#ballB)"/>
<circle cx="278.9" cy="55.2" r="2.55" fill="url(#ballB)"/>
<circle cx="265.1" cy="64.9" r="2.55" fill="url(#ballB)"/>
<circle cx="286.4" cy="68.5" r="2.55" fill="url(#ballB)"/>
<circle cx="272.0" cy="56.6" r="2.55" fill="url(#ballB)"/>
<circle cx="267.5" cy="60.6" r="2.55" fill="url(#ballB)"/>
<circle cx="283.5" cy="71.9" r="2.55" fill="url(#ballB)"/>
<circle cx="274.4" cy="75.4" r="2.55" fill="url(#ballB)"/>
<circle cx="268.6" cy="70.7" r="2.55" fill="url(#ballB)"/>
<circle cx="281.0" cy="59.1" r="2.55" fill="url(#ballB)"/>
<circle cx="279.5" cy="73.9" r="2.55" fill="url(#ballB)"/>
<circle cx="283.1" cy="63.2" r="2.55" fill="url(#ballB)"/>
<circle cx="269.5" cy="66.5" r="2.55" fill="url(#ballB)"/>
<circle cx="276.5" cy="59.7" r="2.55" fill="url(#ballB)"/>
<circle cx="271.8" cy="61.6" r="2.55" fill="url(#ballB)"/>
<circle cx="273.2" cy="70.9" r="2.55" fill="url(#ballB)"/>
<circle cx="281.3" cy="67.4" r="2.55" fill="url(#ballB)"/>
<circle cx="277.7" cy="70.0" r="2.55" fill="url(#ballB)"/>
<circle cx="277.7" cy="64.0" r="2.55" fill="url(#ballB)"/>
<circle cx="273.7" cy="65.8" r="2.55" fill="url(#ballB)"/>
<path d="M267.4 77.2L265.3 75.8M267.4 77.2L270.9 79.5M267.4 77.2L265.0 80.2M265.0 80.2L261.8 78.5M265.0 80.2L267.5 83.1M270.9 79.5L271.7 76.0M270.9 79.5L272.1 82.9M265.3 75.8L267.3 72.5M267.5 83.1L269.4 85.8M267.5 83.1L263.2 83.6M271.7 76.0L275.1 78.1M271.7 76.0L271.7 71.6M261.8 78.5L260.0 80.4M272.1 82.9L275.6 82.5M272.1 82.9L269.4 85.8M267.3 72.5L264.1 70.3M267.3 72.5L271.7 71.6M263.2 83.6L265.2 86.3M263.2 83.6L259.5 83.5M263.2 83.6L260.0 80.4M275.1 78.1L276.5 74.5M275.1 78.1L278.7 79.8M260.6 73.4L260.2 69.7M260.6 73.4L257.6 75.5M260.6 73.4L256.7 71.2M269.4 85.8L273.6 86.9M269.4 85.8L265.2 86.3M271.7 71.6L274.7 70.6M271.7 71.6L269.8 68.3M260.0 80.4L259.5 83.5M260.0 80.4L256.1 79.1M275.6 82.5L277.1 85.5M275.6 82.5L278.7 79.8M264.1 70.3L265.5 66.9M264.1 70.3L260.2 69.7M265.2 86.3L267.9 89.3M276.5 74.5L279.8 75.5M276.5 74.5L279.3 71.5M257.6 75.5L254.0 75.2M257.6 75.5L256.7 71.2M273.6 86.9L277.1 85.5M273.6 86.9L272.6 89.9M273.6 86.9L277.1 88.6M269.8 68.3L273.1 66.2M269.8 68.3L265.5 66.9M259.5 83.5L256.1 82.0M278.7 79.8L281.2 82.2M260.2 69.7L261.2 66.2M267.9 89.3L265.5 90.5M267.9 89.3L272.6 89.9M274.7 70.6L279.3 71.5M256.1 79.1L256.1 82.0M256.1 79.1L253.2 79.9M256.1 79.1L254.0 75.2M277.1 85.5L277.1 88.6M265.5 66.9L268.0 63.8M265.5 66.9L261.2 66.2M261.4 87.6L258.5 86.8M261.4 87.6L261.6 91.0M279.8 75.5L279.3 71.5M279.8 75.5L282.8 78.4M256.7 71.2L256.5 68.0M272.6 89.9L276.0 91.9M272.6 89.9L270.5 92.6M273.1 66.2L277.1 65.8M273.1 66.2L272.6 62.1M256.1 82.0L253.2 79.9M281.2 82.2L285.1 80.8M281.2 82.2L282.8 78.4M261.2 66.2L262.8 62.9M265.5 90.5L267.5 93.7M265.5 90.5L261.6 91.0M279.3 71.5L283.5 72.1M254.0 75.2L253.0 70.9M277.1 88.6L281.3 89.0M268.0 63.8L265.7 60.3M258.5 86.8L254.9 85.3M282.8 78.4L285.1 80.8M256.5 68.0L253.4 67.2M256.5 68.0L257.6 64.0M270.5 92.6L273.7 94.0M270.5 92.6L267.5 93.7M277.1 65.8L280.7 66.8M277.1 65.8L280.6 63.1M253.2 79.9L251.2 77.0M282.5 85.7L285.5 85.4M282.5 85.7L281.3 89.0M262.8 62.9L260.3 60.5M262.8 62.9L265.7 60.3M261.6 91.0L258.1 90.2M261.6 91.0L263.5 93.9M261.6 91.0L259.6 92.9M283.5 72.1L284.8 68.6M283.5 72.1L285.9 75.1M253.0 70.9L253.4 67.2M253.0 70.9L250.0 72.0M276.0 91.9L273.7 94.0M276.0 91.9L280.2 92.0M272.6 62.1L276.4 61.4M272.6 62.1L270.7 58.6M254.9 85.3L254.4 87.7M285.1 80.8L288.1 78.9M257.6 64.0L254.5 63.1M257.6 64.0L260.3 60.5M267.5 93.7L270.0 95.7M267.5 93.7L263.5 93.9M280.7 66.8L280.6 63.1M280.7 66.8L284.5 65.3M251.2 77.0L249.6 78.3M281.3 89.0L285.0 88.8M281.3 89.0L280.2 92.0M265.7 60.3L263.8 57.5M258.1 90.2L259.6 92.9M258.1 90.2L255.2 90.4M285.9 75.1L287.9 71.6M253.4 67.2L250.6 67.3M273.7 94.0L277.9 94.7M276.4 61.4L275.5 59.1M251.4 82.1L251.0 84.8M251.4 82.1L249.6 78.3M285.5 85.4L285.0 88.8M285.5 85.4L289.0 87.1M260.3 60.5L257.2 59.0M260.3 60.5L261.1 56.0M263.5 93.9L266.3 96.1M263.5 93.9L259.6 92.9M284.8 68.6L284.5 65.3M284.8 68.6L288.9 68.4M250.0 72.0L247.8 73.3M250.0 72.0L247.9 68.8M280.2 92.0L284.0 92.0M270.7 58.6L273.5 55.7M270.7 58.6L268.4 55.2M254.4 87.7L255.2 90.4M288.1 78.9L289.2 82.5M288.1 78.9L290.5 75.2M254.5 63.1L251.5 62.8M270.0 95.7L273.6 96.9M270.0 95.7L266.3 96.1M280.6 63.1L280.5 59.1M249.6 78.3L248.4 80.4M285.0 88.8L284.0 92.0M263.8 57.5L261.1 56.0M263.8 57.5L265.7 53.5M259.6 92.9L261.4 95.2M259.6 92.9L257.0 93.3M287.9 71.6L288.9 68.4M250.6 67.3L247.9 68.8M277.9 94.7L281.1 95.3M275.5 59.1L273.5 55.7M251.0 84.8L250.9 87.4M251.0 84.8L248.0 83.4M289.2 82.5L292.3 79.7M289.2 82.5L292.2 84.3M257.2 59.0L257.6 55.4M257.2 59.0L253.8 58.4M266.3 96.1L269.1 97.8M247.8 73.3L246.4 75.6M247.8 73.3L245.8 70.5M284.0 92.0L287.6 90.8M284.0 92.0L284.9 94.4M268.4 55.2L270.5 52.6M268.4 55.2L265.7 53.5M255.2 90.4L257.0 93.3M290.5 75.2L292.0 72.4M290.5 75.2L293.9 76.5M251.5 62.8L251.2 58.7M251.5 62.8L248.5 63.1M273.6 96.9L277.5 97.5M280.5 59.1L278.9 55.5M280.5 59.1L284.4 57.3M248.4 80.4L248.0 83.4M289.0 87.1L292.2 84.3M289.0 87.1L291.4 89.1M261.1 56.0L257.6 55.4M261.4 95.2L264.1 97.5M261.4 95.2L259.1 95.8M288.9 68.4L289.0 64.3M247.9 68.8L245.8 70.5M281.1 95.3L284.9 94.4M281.1 95.3L281.6 97.8M273.5 55.7L270.5 52.6M250.9 87.4L252.4 90.2M250.9 87.4L248.5 86.2M292.3 79.7L293.9 76.5M292.3 79.7L295.2 81.3M253.8 58.4L251.2 58.7M253.8 58.4L254.5 54.4M269.1 97.8L268.1 99.6M285.6 60.7L288.6 59.6M285.6 60.7L284.4 57.3M246.4 75.6L244.4 72.6M246.4 75.6L245.4 78.1M287.6 90.8L288.7 93.1M287.6 90.8L291.4 89.1M265.7 53.5L262.4 51.8M265.7 53.5L268.4 50.2M257.0 93.3L259.1 95.8M292.0 72.4L295.8 72.8M248.5 63.1L248.6 59.6M248.5 63.1L246.3 65.3M277.5 97.5L281.6 97.8M277.5 97.5L277.1 99.7M278.9 55.5L281.6 53.5M278.9 55.5L276.4 52.3M248.0 83.4L248.5 86.2M248.0 83.4L245.5 81.0M292.2 84.3L295.2 81.3M292.2 84.3L294.0 86.8M257.6 55.4L254.5 54.4M264.1 97.5L262.0 98.3M289.0 64.3L293.1 63.7M289.0 64.3L288.6 59.6M245.8 70.5L244.4 72.6M284.9 94.4L288.7 93.1M270.5 52.6L268.4 50.2M270.5 52.6L273.8 50.0M252.4 90.2L254.2 93.0M293.9 76.5L295.8 72.8M293.9 76.5L297.0 78.0M251.2 58.7L248.6 59.6M273.3 99.3L271.5 100.2M273.3 99.3L277.1 99.7M284.4 57.3L287.4 56.0M245.4 78.1L245.5 81.0M245.4 78.1L243.5 75.2M291.4 89.1L294.0 86.8M291.4 89.1L292.6 91.2M262.4 51.8L264.3 48.6M262.4 51.8L259.4 50.6M259.1 95.8L257.2 96.1M292.8 67.7L293.1 63.7M292.8 67.7L296.4 68.9M246.3 65.3L246.0 61.9M246.3 65.3L244.3 67.1M281.6 97.8L281.0 99.5M281.6 97.8L285.4 97.0M276.4 52.3L273.8 50.0M276.4 52.3L280.0 50.7M248.5 86.2L249.7 89.3M295.2 81.3L297.0 78.0M254.5 54.4L251.4 54.6M268.1 99.6L271.5 100.2M268.1 99.6L266.3 100.1M288.6 59.6L287.4 56.0M288.6 59.6L292.7 59.5M244.4 72.6L242.9 70.2M244.4 72.6L243.5 75.2M288.7 93.1L292.6 91.2M268.4 50.2L270.5 47.1M254.2 93.0L251.9 92.3M295.8 72.8L298.6 74.1M295.8 72.8L296.4 68.9M248.6 59.6L248.3 56.0M277.1 99.7L281.0 99.5M277.1 99.7L275.4 101.1M281.6 53.5L280.0 50.7M245.5 81.0L243.5 79.0M245.5 81.0L245.9 83.9M294.0 86.8L295.5 88.3M259.4 50.6L260.6 47.5M259.4 50.6L255.7 50.3M262.0 98.3L259.9 98.2M293.1 63.7L296.4 63.9M293.1 63.7L292.7 59.5M244.3 67.1L243.6 63.2M285.4 97.0L285.2 98.8M285.4 97.0L289.6 95.5M273.8 50.0L270.5 47.1M249.7 89.3L247.5 87.7M249.7 89.3L251.9 92.3M297.0 78.0L299.6 79.5M297.0 78.0L298.6 74.1M251.4 54.6L252.4 50.9M271.5 100.2L275.4 101.1M287.4 56.0L286.3 52.6M243.5 75.2L242.1 72.4M292.6 91.2L293.2 93.2M292.6 91.2L295.5 88.3M264.3 48.6L267.2 45.8M264.3 48.6L260.6 47.5M257.2 96.1L259.9 98.2M257.2 96.1L254.1 94.7M296.4 68.9L299.5 70.0M246.0 61.9L245.6 58.2M281.0 99.5L280.4 100.9M280.0 50.7L283.3 48.6M245.9 83.9L244.0 82.1M297.2 83.7L298.4 85.0M255.7 50.3L257.3 47.0M255.7 50.3L252.4 50.9M266.3 100.1L269.5 101.4M266.3 100.1L263.6 100.2M292.7 59.5L295.8 60.7M242.9 70.2L242.1 72.4M242.9 70.2L242.1 66.3M289.6 95.5L293.2 93.2M289.6 95.5L289.4 97.6M270.5 47.1L267.2 45.8M270.5 47.1L273.6 44.5M251.9 92.3L254.1 94.7M251.9 92.3L249.6 91.0M298.6 74.1L301.1 75.3M248.3 56.0L249.0 52.6M248.3 56.0L245.6 58.2M275.4 101.1L274.3 102.0M286.3 52.6L289.6 51.3M243.5 79.0L241.9 76.0M243.5 79.0L244.0 82.1M295.5 88.3L296.5 90.5M260.6 47.5L263.0 44.7M260.6 47.5L257.3 47.0M259.9 98.2L258.2 98.0M296.4 63.9L295.8 60.7M296.4 63.9L299.4 65.6M243.6 63.2L243.3 59.9M243.6 63.2L242.1 66.3M285.2 98.8L284.0 100.3M277.5 47.1L280.7 45.9M247.5 87.7L245.4 85.6M247.5 87.7L249.6 91.0M299.6 79.5L301.1 81.7M299.6 79.5L302.8 77.9M252.4 50.9L253.9 47.7M269.5 101.4L268.3 101.7M269.5 101.4L274.3 102.0M290.9 55.3L294.5 55.9M290.9 55.3L289.6 51.3M242.1 72.4L241.0 68.7M293.2 93.2L293.9 95.0M267.2 45.8L270.1 42.6M254.1 94.7L252.4 94.2M299.5 70.0L302.0 71.2M245.6 58.2L243.3 59.9M280.4 100.9L284.0 100.3M280.4 100.9L278.8 102.1M283.3 48.6L286.7 48.1M283.3 48.6L280.7 45.9M244.0 82.1L242.2 78.9M298.4 85.0L301.1 81.7M257.3 47.0L259.6 43.9M257.3 47.0L253.9 47.7M263.6 100.2L261.9 99.9M263.6 100.2L265.6 101.4M295.8 60.7L299.3 61.0M242.1 66.3L241.7 63.2M242.1 66.3L241.0 68.7M289.4 97.6L289.1 98.9M289.4 97.6L292.9 96.9M273.6 44.5L277.0 42.9M273.6 44.5L272.4 41.4M249.6 91.0L247.4 89.0M301.1 75.3L302.0 71.2M301.1 75.3L302.8 77.9M249.0 52.6L250.3 48.7M249.0 52.6L246.1 53.7M274.3 102.0L272.4 102.5M274.3 102.0L278.8 102.1M289.6 51.3L292.8 51.2M289.6 51.3L286.7 48.1M241.9 76.0L242.2 78.9M296.5 90.5L297.6 92.1M263.0 44.7L259.6 43.9M263.0 44.7L266.5 42.0M258.2 98.0L261.9 99.9M258.2 98.0L255.2 96.5M299.4 65.6L302.2 66.3M243.3 59.9L241.8 59.2M284.0 100.3L283.5 101.5M280.7 45.9L284.2 44.8M245.4 85.6L243.6 83.0M301.1 81.7L302.5 83.5M301.1 81.7L302.8 77.9M268.3 101.7L265.6 101.4M268.3 101.7L272.4 102.5M294.5 55.9L298.0 56.4M241.0 68.7L240.6 65.7M293.9 95.0L292.9 96.9M293.9 95.0L297.4 93.8M270.1 42.6L272.4 41.4M270.1 42.6L266.5 42.0M252.4 94.2L255.2 96.5M252.4 94.2L253.3 95.1M252.4 94.2L249.6 91.8M302.0 71.2L304.3 72.5M246.1 53.7L247.2 50.4M246.1 53.7L243.8 55.5M278.8 102.1L277.0 102.7M278.8 102.1L281.6 102.4M286.7 48.1L290.3 47.6M242.2 78.9L240.9 76.3M300.1 86.9L300.2 89.4M300.1 86.9L302.5 83.5M259.6 43.9L262.8 41.2M261.9 99.9L265.6 101.4M299.3 61.0L301.8 62.0M241.7 63.2L240.6 65.7M241.7 63.2L241.8 59.2M289.1 98.9L287.5 100.3M289.1 98.9L292.9 96.9M277.0 42.9L280.6 41.9M277.0 42.9L276.7 39.8M247.4 89.0L245.5 86.8M247.4 89.0L249.6 91.8M302.8 77.9L304.4 78.9M250.3 48.7L251.9 45.3M250.3 48.7L247.2 50.4M272.4 102.5L270.0 102.5M292.8 51.2L293.9 48.0M292.8 51.2L296.5 52.2M240.5 71.8L239.9 68.8M297.6 92.1L297.4 93.8M297.6 92.1L300.2 89.4M266.5 42.0L269.5 39.3M255.2 96.5L253.3 95.1M302.2 66.3L304.5 68.3M302.2 66.3L301.8 62.0M243.8 55.5L244.4 52.5M243.8 55.5L242.4 54.9M283.5 101.5L281.6 102.4M283.5 101.5L287.5 100.3M284.2 44.8L287.2 44.2M243.6 83.0L242.1 80.3M302.5 83.5L303.3 85.2M255.9 43.8L258.2 41.4M255.9 43.8L254.2 42.2M265.6 101.4L263.4 100.8M298.0 56.4L300.9 56.9M298.0 56.4L296.5 52.2M240.6 65.7L240.3 62.2M292.9 96.9L292.0 98.5M272.4 41.4L269.5 39.3M249.6 91.8L247.7 89.8M304.3 72.5L306.2 74.0M304.3 72.5L304.5 68.3M247.2 50.4L248.8 46.9M277.0 102.7L275.0 103.0M290.3 47.6L293.9 48.0M240.9 76.3L240.0 73.1M240.9 76.3L240.6 76.3M300.2 89.4L300.6 91.1M262.8 41.2L265.0 39.2M301.8 62.0L304.6 63.6M241.8 59.2L242.4 54.9M287.5 100.3L287.1 101.1M280.6 41.9L283.7 41.0M280.6 41.9L276.7 39.8M245.5 86.8L247.7 89.8M304.4 78.9L305.5 81.0M251.9 45.3L254.2 42.2M251.9 45.3L248.8 46.9M296.5 52.2L298.9 52.5M239.9 68.8L239.5 65.8M297.4 93.8L296.3 95.8M297.4 93.8L300.1 92.6M269.5 39.3L272.5 38.0M269.5 39.3L268.3 36.9M244.4 52.5L245.8 49.0M244.4 52.5L243.4 51.7M281.6 102.4L279.7 102.8M287.2 44.2L290.9 43.8M242.1 80.3L240.6 76.3M303.3 85.2L303.6 87.0M258.2 41.4L260.8 39.1M258.2 41.4L257.0 39.5M300.9 56.9L303.7 58.1M300.9 56.9L298.9 52.5M240.3 62.2L240.5 59.0M240.3 62.2L239.5 65.8M292.0 98.5L290.6 99.7M292.0 98.5L294.9 97.4M276.7 39.8L279.2 38.4M306.2 74.0L308.2 71.7M306.2 74.0L306.9 70.0M248.8 46.9L250.8 43.5M248.8 46.9L247.9 45.5M293.9 48.0L297.1 48.2M240.0 73.1L240.6 76.3M240.0 73.1L239.4 69.7M300.6 91.1L300.1 92.6M300.6 91.1L303.3 89.2M265.0 39.2L268.3 36.9M304.6 63.6L306.7 64.8M242.4 54.9L243.4 51.7M242.4 54.9L241.5 54.8M287.1 101.1L290.6 99.7M287.1 101.1L285.0 101.9M283.7 41.0L287.1 40.7M283.7 41.0L283.6 38.1M305.5 81.0L306.1 83.0M254.2 42.2L257.0 39.5M254.2 42.2L253.3 40.7M298.9 52.5L301.9 53.1M239.5 65.8L239.2 65.6M239.5 65.8L239.6 61.4M296.3 95.8L294.9 97.4M272.5 38.0L275.5 36.4M272.5 38.0L272.0 35.5M306.9 70.0L308.2 71.7M245.8 49.0L245.2 47.9M245.8 49.0L247.9 45.5M290.9 43.8L293.6 44.0M290.9 43.8L291.1 40.7M303.6 87.0L303.3 89.2M303.6 87.0L306.2 84.8M260.8 39.1L263.6 36.9M260.8 39.1L260.3 36.8M303.7 58.1L306.1 59.7M303.7 58.1L304.5 54.8M240.5 59.0L241.5 54.8M240.5 59.0L239.6 61.4M290.6 99.7L289.3 100.5M279.2 38.4L278.7 36.1M279.2 38.4L283.6 38.1M307.4 76.6L308.1 78.0M307.4 76.6L309.4 73.4M250.8 43.5L253.3 40.7M250.8 43.5L249.8 42.5M297.1 48.2L297.1 45.1M297.1 48.2L300.3 49.4M239.4 69.7L239.2 65.6M300.1 92.6L299.6 94.0M268.3 36.9L272.0 35.5M268.3 36.9L267.4 34.8M306.7 64.8L308.7 66.1M306.7 64.8L308.1 61.5M243.4 51.7L245.2 47.9M285.0 101.9L289.3 100.5M287.1 40.7L287.2 37.8M287.1 40.7L283.6 38.1M306.1 83.0L306.2 84.8M306.1 83.0L308.5 80.5M257.0 39.5L260.3 36.8M301.9 53.1L304.5 54.8M301.9 53.1L300.3 49.4M239.6 61.4L240.1 58.5M294.9 97.4L294.0 98.3M275.5 36.4L278.7 36.1M275.5 36.4L274.8 34.5M308.2 71.7L309.4 73.4M247.9 45.5L249.8 42.5M293.6 44.0L294.0 41.4M293.6 44.0L297.1 45.1M303.3 89.2L302.9 90.7M263.6 36.9L262.6 35.2M263.6 36.9L260.3 36.8M306.1 59.7L308.1 61.5M306.1 59.7L307.0 56.4M241.5 54.8L242.6 51.3M283.6 38.1L287.2 37.8M308.1 78.0L309.9 75.5M308.1 78.0L308.5 80.5M253.3 40.7L252.2 39.8M300.3 49.4L303.3 50.6M300.3 49.4L300.0 46.1M299.6 94.0L302.1 92.1M299.6 94.0L297.9 95.7M272.0 35.5L274.8 34.5M308.7 66.1L310.0 68.0M308.7 66.1L309.7 63.3M245.2 47.9L246.6 45.0M291.1 40.7L294.0 41.4M291.1 40.7L290.5 38.0M306.2 84.8L308.3 82.5M306.2 84.8L305.9 86.8M260.3 36.8L262.6 35.2M304.5 54.8L307.0 56.4M240.1 58.5L241.1 54.5M278.7 36.1L282.3 35.3M309.4 73.4L309.9 75.5M309.4 73.4L310.9 70.2M249.8 42.5L252.2 39.8M297.1 45.1L300.0 46.1M302.9 90.7L302.1 92.1M267.4 34.8L270.9 33.4M267.4 34.8L266.1 33.4M308.1 61.5L309.7 63.3M308.1 61.5L308.9 58.5M242.6 51.3L244.3 48.0M242.6 51.3L242.6 50.9M287.2 37.8L290.5 38.0M287.2 37.8L286.3 35.4M308.5 80.5L308.3 82.5M308.5 80.5L310.2 77.9M256.3 37.5L259.2 35.5M256.3 37.5L254.8 37.2M303.3 50.6L305.4 51.7M303.3 50.6L302.7 47.1M274.8 34.5L278.3 33.6M310.0 68.0L310.9 70.2M310.0 68.0L311.1 65.1M246.6 45.0L249.2 41.8M246.6 45.0L245.9 45.1M294.0 41.4L297.3 42.3M305.9 86.8L305.3 88.4M305.9 86.8L308.0 84.0M262.6 35.2L266.1 33.4M307.0 56.4L308.9 58.5M307.0 56.4L307.5 53.6M241.1 54.5L242.6 50.9M282.3 35.3L281.8 33.2M282.3 35.3L286.3 35.4M309.9 75.5L310.2 77.9M252.2 39.8L254.8 37.2M300.0 46.1L302.7 47.1M270.9 33.4L273.8 32.5M309.7 63.3L311.1 65.1M244.3 48.0L245.9 45.1M290.5 38.0L293.1 38.6M308.3 82.5L308.0 84.0M259.2 35.5L261.8 33.7M259.2 35.5L258.3 34.8M305.4 51.7L307.5 53.6M278.3 33.6L281.8 33.2M310.9 70.2L311.8 67.3M310.9 70.2L311.5 72.5M249.2 41.8L251.5 39.1M297.3 42.3L299.6 42.8M266.1 33.4L269.3 31.9M308.9 58.5L310.4 59.6M286.3 35.4L289.6 35.6M310.2 77.9L310.3 79.0M310.2 77.9L311.6 74.7M254.8 37.2L254.4 36.7M302.7 47.1L305.0 48.1M273.8 32.5L277.0 31.5M273.8 32.5L272.9 31.0M311.1 65.1L311.8 67.3M293.1 38.6L296.6 39.2M261.8 33.7L261.2 33.1M261.8 33.7L258.3 34.8M307.5 53.6L309.4 55.6M281.8 33.2L285.0 33.0M311.5 72.5L311.6 74.7M311.5 72.5L312.3 69.7M251.5 39.1L251.1 39.1M251.5 39.1L254.4 36.7M299.6 42.8L302.7 44.5M299.6 42.8L296.6 39.2M269.3 31.9L272.9 31.0M269.3 31.9L268.7 31.0M310.4 59.6L309.4 55.6M310.4 59.6L311.7 62.0M289.6 35.6L293.3 36.4M310.3 79.0L311.3 76.4M310.3 79.0L309.7 81.0M258.3 34.8L261.2 33.1M305.0 48.1L302.7 44.5M305.0 48.1L307.4 50.4M277.0 31.5L276.7 30.4M277.0 31.5L281.1 31.5M311.8 67.3L312.3 69.7M248.8 41.5L251.1 39.1M296.6 39.2L299.2 40.1M296.6 39.2L295.6 37.0M296.6 39.2L293.3 36.4M265.6 31.9L268.7 31.0M265.6 31.9L264.4 31.5M309.4 55.6L310.7 57.0M285.0 33.0L288.7 33.6M285.0 33.0L284.4 31.5M311.6 74.7L311.3 76.4M254.4 36.7L257.4 34.6M302.7 44.5L305.0 45.7M272.9 31.0L272.6 30.1M272.9 31.0L276.7 30.4M311.7 62.0L312.4 64.0M293.3 36.4L295.6 37.0M261.2 33.1L264.4 31.5M307.4 50.4L309.0 52.3M281.1 31.5L284.4 31.5M312.3 69.7L312.5 71.1M251.1 39.1L254.2 36.6M299.2 40.1L302.0 41.9M299.2 40.1L295.6 37.0M268.7 31.0L272.6 30.1M310.7 57.0L311.7 58.8M288.7 33.6L292.3 34.4M257.4 34.6L260.9 32.7M305.0 45.7L307.0 47.7M305.0 45.7L303.7 42.9M276.7 30.4L280.1 30.2M312.4 64.0L312.4 61.2M312.4 64.0L312.8 66.1M264.4 31.5L268.4 30.3M309.0 52.3L310.3 53.7M284.4 31.5L287.5 31.9M302.0 41.9L303.7 42.9M272.6 30.1L275.9 29.6M311.7 58.8L312.4 61.2M292.3 34.4L294.6 35.1M292.3 34.4L290.8 32.8M260.9 32.7L264.5 31.2M307.0 47.7L308.9 50.2M307.0 47.7L306.0 45.2M280.1 30.2L279.3 29.6M280.1 30.2L284.1 30.6M298.7 38.1L297.1 36.4M298.7 38.1L301.3 40.0M268.4 30.3L271.5 29.7M310.3 53.7L308.9 50.2M310.3 53.7L309.6 51.2M287.5 31.9L284.1 30.6M287.5 31.9L286.7 31.1M303.7 42.9L301.3 40.0M275.9 29.6L279.3 29.6M275.9 29.6L275.1 29.4M294.6 35.1L297.1 36.4M294.6 35.1L293.6 33.9M308.9 50.2L309.6 51.2M284.1 30.6L286.7 31.1M301.3 40.0L303.3 41.6M271.5 29.7L275.1 29.4M290.8 32.8L293.6 33.9M290.8 32.8L289.9 32.1M306.0 45.2L307.6 47.3M279.3 29.6L282.4 30.0M297.1 36.4L299.7 38.0M286.7 31.1L289.9 32.1M303.3 41.6L304.5 43.0M293.6 33.9L295.9 35.3" stroke="#3550ee" stroke-width="1.35" fill="none"/>
<circle cx="267.4" cy="77.2" r="1.14" fill="#c8243f"/>
<circle cx="265.0" cy="80.2" r="1.11" fill="#c8243f"/>
<circle cx="270.9" cy="79.5" r="1.13" fill="#c8243f"/>
<circle cx="265.3" cy="75.8" r="1.13" fill="#c8243f"/>
<circle cx="267.5" cy="83.1" r="1.11" fill="#c8243f"/>
<circle cx="271.7" cy="76.0" r="1.15" fill="#c8243f"/>
<circle cx="261.8" cy="78.5" r="1.11" fill="#c8243f"/>
<circle cx="272.1" cy="82.9" r="1.12" fill="#c8243f"/>
<circle cx="267.3" cy="72.5" r="1.15" fill="#c8243f"/>
<circle cx="263.2" cy="83.6" r="1.08" fill="#c8243f"/>
<circle cx="275.1" cy="78.1" r="1.15" fill="#c8243f"/>
<circle cx="260.6" cy="73.4" r="1.12" fill="#c8243f"/>
<circle cx="269.4" cy="85.8" r="1.09" fill="#c8243f"/>
<circle cx="271.7" cy="71.6" r="1.16" fill="#c8243f"/>
<circle cx="260.0" cy="80.4" r="1.09" fill="#c8243f"/>
<circle cx="275.6" cy="82.5" r="1.12" fill="#c8243f"/>
<circle cx="264.1" cy="70.3" r="1.14" fill="#c8243f"/>
<circle cx="265.2" cy="86.3" r="1.07" fill="#c8243f"/>
<circle cx="276.5" cy="74.5" r="1.16" fill="#c8243f"/>
<circle cx="257.6" cy="75.5" r="1.09" fill="#c8243f"/>
<circle cx="273.6" cy="86.9" r="1.09" fill="#c8243f"/>
<circle cx="269.8" cy="68.3" r="1.16" fill="#c8243f"/>
<circle cx="259.5" cy="83.5" r="1.06" fill="#c8243f"/>
<circle cx="278.7" cy="79.8" r="1.14" fill="#c8243f"/>
<circle cx="260.2" cy="69.7" r="1.12" fill="#c8243f"/>
<circle cx="267.9" cy="89.3" r="1.06" fill="#c8243f"/>
<circle cx="274.7" cy="70.6" r="1.17" fill="#c8243f"/>
<circle cx="256.1" cy="79.1" r="1.06" fill="#c8243f"/>
<circle cx="277.1" cy="85.5" r="1.10" fill="#c8243f"/>
<circle cx="265.5" cy="66.9" r="1.15" fill="#c8243f"/>
<circle cx="261.4" cy="87.6" r="1.04" fill="#c8243f"/>
<circle cx="279.8" cy="75.5" r="1.15" fill="#c8243f"/>
<circle cx="256.7" cy="71.2" r="1.10" fill="#c8243f"/>
<circle cx="272.6" cy="89.9" r="1.06" fill="#c8243f"/>
<circle cx="273.1" cy="66.2" r="1.17" fill="#c8243f"/>
<circle cx="256.1" cy="82.0" r="1.04" fill="#c8243f"/>
<circle cx="281.2" cy="82.2" r="1.12" fill="#c8243f"/>
<circle cx="261.2" cy="66.2" r="1.13" fill="#c8243f"/>
<circle cx="265.5" cy="90.5" r="1.03" fill="#c8243f"/>
<circle cx="279.3" cy="71.5" r="1.16" fill="#c8243f"/>
<circle cx="254.0" cy="75.2" r="1.06" fill="#c8243f"/>
<circle cx="277.1" cy="88.6" r="1.08" fill="#c8243f"/>
<circle cx="268.0" cy="63.8" r="1.16" fill="#c8243f"/>
<circle cx="258.5" cy="86.8" r="1.03" fill="#c8243f"/>
<circle cx="282.8" cy="78.4" r="1.14" fill="#c8243f"/>
<circle cx="256.5" cy="68.0" r="1.10" fill="#c8243f"/>
<circle cx="270.5" cy="92.6" r="1.03" fill="#c8243f"/>
<circle cx="277.1" cy="65.8" r="1.17" fill="#c8243f"/>
<circle cx="253.2" cy="79.9" r="1.03" fill="#c8243f"/>
<circle cx="282.5" cy="85.7" r="1.09" fill="#c8243f"/>
<circle cx="262.8" cy="62.9" r="1.14" fill="#c8243f"/>
<circle cx="261.6" cy="91.0" r="1.00" fill="#c8243f"/>
<circle cx="283.5" cy="72.1" r="1.15" fill="#c8243f"/>
<circle cx="253.0" cy="70.9" r="1.07" fill="#c8243f"/>
<circle cx="276.0" cy="91.9" r="1.04" fill="#c8243f"/>
<circle cx="272.6" cy="62.1" r="1.17" fill="#c8243f"/>
<circle cx="254.9" cy="85.3" r="1.01" fill="#c8243f"/>
<circle cx="285.1" cy="80.8" r="1.12" fill="#c8243f"/>
<circle cx="257.6" cy="64.0" r="1.11" fill="#c8243f"/>
<circle cx="267.5" cy="93.7" r="1.00" fill="#c8243f"/>
<circle cx="280.7" cy="66.8" r="1.17" fill="#c8243f"/>
<circle cx="251.2" cy="77.0" r="1.03" fill="#c8243f"/>
<circle cx="281.3" cy="89.0" r="1.07" fill="#c8243f"/>
<circle cx="265.7" cy="60.3" r="1.15" fill="#c8243f"/>
<circle cx="258.1" cy="90.2" r="0.98" fill="#c8243f"/>
<circle cx="285.9" cy="75.1" r="1.14" fill="#c8243f"/>
<circle cx="253.4" cy="67.2" r="1.07" fill="#c8243f"/>
<circle cx="273.7" cy="94.0" r="1.01" fill="#c8243f"/>
<circle cx="276.4" cy="61.4" r="1.17" fill="#c8243f"/>
<circle cx="251.4" cy="82.1" r="0.99" fill="#c8243f"/>
<circle cx="285.5" cy="85.4" r="1.09" fill="#c8243f"/>
<circle cx="260.3" cy="60.5" r="1.12" fill="#c8243f"/>
<circle cx="263.5" cy="93.9" r="0.97" fill="#c8243f"/>
<circle cx="284.8" cy="68.6" r="1.16" fill="#c8243f"/>
<circle cx="250.0" cy="72.0" r="1.03" fill="#c8243f"/>
<circle cx="280.2" cy="92.0" r="1.04" fill="#c8243f"/>
<circle cx="270.7" cy="58.6" r="1.16" fill="#c8243f"/>
<circle cx="254.4" cy="87.7" r="0.97" fill="#c8243f"/>
<circle cx="288.1" cy="78.9" r="1.12" fill="#c8243f"/>
<circle cx="254.5" cy="63.1" r="1.08" fill="#c8243f"/>
<circle cx="270.0" cy="95.7" r="0.98" fill="#c8243f"/>
<circle cx="280.6" cy="63.1" r="1.16" fill="#c8243f"/>
<circle cx="249.6" cy="78.3" r="1.00" fill="#c8243f"/>
<circle cx="285.0" cy="88.8" r="1.06" fill="#c8243f"/>
<circle cx="263.8" cy="57.5" r="1.13" fill="#c8243f"/>
<circle cx="259.6" cy="92.9" r="0.96" fill="#c8243f"/>
<circle cx="287.9" cy="71.6" r="1.14" fill="#c8243f"/>
<circle cx="250.6" cy="67.3" r="1.05" fill="#c8243f"/>
<circle cx="277.9" cy="94.7" r="1.00" fill="#c8243f"/>
<circle cx="275.5" cy="59.1" r="1.16" fill="#c8243f"/>
<circle cx="251.0" cy="84.8" r="0.96" fill="#c8243f"/>
<circle cx="289.2" cy="82.5" r="1.09" fill="#c8243f"/>
<circle cx="257.2" cy="59.0" r="1.10" fill="#c8243f"/>
<circle cx="266.3" cy="96.1" r="0.95" fill="#c8243f"/>
<circle cx="284.5" cy="65.3" r="1.16" fill="#c8243f"/>
<circle cx="247.8" cy="73.3" r="1.00" fill="#c8243f"/>
<circle cx="284.0" cy="92.0" r="1.03" fill="#c8243f"/>
<circle cx="268.4" cy="55.2" r="1.14" fill="#c8243f"/>
<circle cx="255.2" cy="90.4" r="0.94" fill="#c8243f"/>
<circle cx="290.5" cy="75.2" r="1.12" fill="#c8243f"/>
<circle cx="251.5" cy="62.8" r="1.05" fill="#c8243f"/>
<circle cx="273.6" cy="96.9" r="0.97" fill="#c8243f"/>
<circle cx="280.5" cy="59.1" r="1.16" fill="#c8243f"/>
<circle cx="248.4" cy="80.4" r="0.96" fill="#c8243f"/>
<circle cx="289.0" cy="87.1" r="1.06" fill="#c8243f"/>
<circle cx="261.1" cy="56.0" r="1.11" fill="#c8243f"/>
<circle cx="261.4" cy="95.2" r="0.93" fill="#c8243f"/>
<circle cx="288.9" cy="68.4" r="1.14" fill="#c8243f"/>
<circle cx="247.9" cy="68.8" r="1.01" fill="#c8243f"/>
<circle cx="281.1" cy="95.3" r="0.99" fill="#c8243f"/>
<circle cx="273.5" cy="55.7" r="1.15" fill="#c8243f"/>
<circle cx="250.9" cy="87.4" r="0.92" fill="#c8243f"/>
<circle cx="292.3" cy="79.7" r="1.09" fill="#c8243f"/>
<circle cx="253.8" cy="58.4" r="1.07" fill="#c8243f"/>
<circle cx="269.1" cy="97.8" r="0.93" fill="#c8243f"/>
<circle cx="285.6" cy="60.7" r="1.15" fill="#c8243f"/>
<circle cx="246.4" cy="75.6" r="0.96" fill="#c8243f"/>
<circle cx="287.6" cy="90.8" r="1.02" fill="#c8243f"/>
<circle cx="265.7" cy="53.5" r="1.12" fill="#c8243f"/>
<circle cx="257.0" cy="93.3" r="0.92" fill="#c8243f"/>
<circle cx="292.0" cy="72.4" r="1.12" fill="#c8243f"/>
<circle cx="248.5" cy="63.1" r="1.02" fill="#c8243f"/>
<circle cx="277.5" cy="97.5" r="0.96" fill="#c8243f"/>
<circle cx="278.9" cy="55.5" r="1.15" fill="#c8243f"/>
<circle cx="248.0" cy="83.4" r="0.92" fill="#c8243f"/>
<circle cx="292.2" cy="84.3" r="1.06" fill="#c8243f"/>
<circle cx="257.6" cy="55.4" r="1.09" fill="#c8243f"/>
<circle cx="264.1" cy="97.5" r="0.91" fill="#c8243f"/>
<circle cx="289.0" cy="64.3" r="1.14" fill="#c8243f"/>
<circle cx="245.8" cy="70.5" r="0.97" fill="#c8243f"/>
<circle cx="284.9" cy="94.4" r="0.99" fill="#c8243f"/>
<circle cx="270.5" cy="52.6" r="1.13" fill="#c8243f"/>
<circle cx="252.4" cy="90.2" r="0.90" fill="#c8243f"/>
<circle cx="293.9" cy="76.5" r="1.09" fill="#c8243f"/>
<circle cx="251.2" cy="58.7" r="1.04" fill="#c8243f"/>
<circle cx="273.3" cy="99.3" r="0.91" fill="#c8243f"/>
<circle cx="284.4" cy="57.3" r="1.14" fill="#c8243f"/>
<circle cx="245.4" cy="78.1" r="0.92" fill="#c8243f"/>
<circle cx="291.4" cy="89.1" r="1.02" fill="#c8243f"/>
<circle cx="262.4" cy="51.8" r="1.10" fill="#c8243f"/>
<circle cx="259.1" cy="95.8" r="0.89" fill="#c8243f"/>
<circle cx="292.8" cy="67.7" r="1.12" fill="#c8243f"/>
<circle cx="246.3" cy="65.3" r="0.99" fill="#c8243f"/>
<circle cx="281.6" cy="97.8" r="0.94" fill="#c8243f"/>
<circle cx="276.4" cy="52.3" r="1.14" fill="#c8243f"/>
<circle cx="248.5" cy="86.2" r="0.89" fill="#c8243f"/>
<circle cx="295.2" cy="81.3" r="1.06" fill="#c8243f"/>
<circle cx="254.5" cy="54.4" r="1.06" fill="#c8243f"/>
<circle cx="268.1" cy="99.6" r="0.88" fill="#c8243f"/>
<circle cx="288.6" cy="59.6" r="1.13" fill="#c8243f"/>
<circle cx="244.4" cy="72.6" r="0.94" fill="#c8243f"/>
<circle cx="288.7" cy="93.1" r="0.99" fill="#c8243f"/>
<circle cx="268.4" cy="50.2" r="1.11" fill="#c8243f"/>
<circle cx="254.2" cy="93.0" r="0.87" fill="#c8243f"/>
<circle cx="295.8" cy="72.8" r="1.09" fill="#c8243f"/>
<circle cx="248.6" cy="59.6" r="1.01" fill="#c8243f"/>
<circle cx="277.1" cy="99.7" r="0.91" fill="#c8243f"/>
<circle cx="281.6" cy="53.5" r="1.14" fill="#c8243f"/>
<circle cx="245.5" cy="81.0" r="0.89" fill="#c8243f"/>
<circle cx="294.0" cy="86.8" r="1.02" fill="#c8243f"/>
<circle cx="259.4" cy="50.6" r="1.07" fill="#c8243f"/>
<circle cx="262.0" cy="98.3" r="0.86" fill="#c8243f"/>
<circle cx="293.1" cy="63.7" r="1.12" fill="#c8243f"/>
<circle cx="244.3" cy="67.1" r="0.95" fill="#c8243f"/>
<circle cx="285.4" cy="97.0" r="0.94" fill="#c8243f"/>
<circle cx="273.8" cy="50.0" r="1.12" fill="#c8243f"/>
<circle cx="249.7" cy="89.3" r="0.86" fill="#c8243f"/>
<circle cx="297.0" cy="78.0" r="1.06" fill="#c8243f"/>
<circle cx="251.4" cy="54.6" r="1.02" fill="#c8243f"/>
<circle cx="271.5" cy="100.2" r="0.88" fill="#c8243f"/>
<circle cx="287.4" cy="56.0" r="1.13" fill="#c8243f"/>
<circle cx="243.5" cy="75.2" r="0.90" fill="#c8243f"/>
<circle cx="292.6" cy="91.2" r="0.98" fill="#c8243f"/>
<circle cx="264.3" cy="48.6" r="1.09" fill="#c8243f"/>
<circle cx="257.2" cy="96.1" r="0.84" fill="#c8243f"/>
<circle cx="296.4" cy="68.9" r="1.09" fill="#c8243f"/>
<circle cx="246.0" cy="61.9" r="0.98" fill="#c8243f"/>
<circle cx="281.0" cy="99.5" r="0.90" fill="#c8243f"/>
<circle cx="280.0" cy="50.7" r="1.13" fill="#c8243f"/>
<circle cx="245.9" cy="83.9" r="0.86" fill="#c8243f"/>
<circle cx="297.2" cy="83.7" r="1.02" fill="#c8243f"/>
<circle cx="255.7" cy="50.3" r="1.04" fill="#c8243f"/>
<circle cx="266.3" cy="100.1" r="0.85" fill="#c8243f"/>
<circle cx="292.7" cy="59.5" r="1.11" fill="#c8243f"/>
<circle cx="242.9" cy="70.2" r="0.91" fill="#c8243f"/>
<circle cx="289.6" cy="95.5" r="0.94" fill="#c8243f"/>
<circle cx="270.5" cy="47.1" r="1.10" fill="#c8243f"/>
<circle cx="251.9" cy="92.3" r="0.84" fill="#c8243f"/>
<circle cx="298.6" cy="74.1" r="1.06" fill="#c8243f"/>
<circle cx="248.3" cy="56.0" r="0.99" fill="#c8243f"/>
<circle cx="275.4" cy="101.1" r="0.86" fill="#c8243f"/>
<circle cx="286.3" cy="52.6" r="1.12" fill="#c8243f"/>
<circle cx="243.5" cy="79.0" r="0.86" fill="#c8243f"/>
<circle cx="295.5" cy="88.3" r="0.99" fill="#c8243f"/>
<circle cx="260.6" cy="47.5" r="1.06" fill="#c8243f"/>
<circle cx="259.9" cy="98.2" r="0.82" fill="#c8243f"/>
<circle cx="296.4" cy="63.9" r="1.09" fill="#c8243f"/>
<circle cx="243.6" cy="63.2" r="0.93" fill="#c8243f"/>
<circle cx="285.2" cy="98.8" r="0.90" fill="#c8243f"/>
<circle cx="277.5" cy="47.1" r="1.10" fill="#c8243f"/>
<circle cx="247.5" cy="87.7" r="0.83" fill="#c8243f"/>
<circle cx="299.6" cy="79.5" r="1.02" fill="#c8243f"/>
<circle cx="252.4" cy="50.9" r="1.01" fill="#c8243f"/>
<circle cx="269.5" cy="101.4" r="0.83" fill="#c8243f"/>
<circle cx="290.9" cy="55.3" r="1.11" fill="#c8243f"/>
<circle cx="242.1" cy="72.4" r="0.88" fill="#c8243f"/>
<circle cx="293.2" cy="93.2" r="0.94" fill="#c8243f"/>
<circle cx="267.2" cy="45.8" r="1.08" fill="#c8243f"/>
<circle cx="254.1" cy="94.7" r="0.81" fill="#c8243f"/>
<circle cx="299.5" cy="70.0" r="1.06" fill="#c8243f"/>
<circle cx="245.6" cy="58.2" r="0.95" fill="#c8243f"/>
<circle cx="280.4" cy="100.9" r="0.86" fill="#c8243f"/>
<circle cx="283.3" cy="48.6" r="1.10" fill="#c8243f"/>
<circle cx="244.0" cy="82.1" r="0.83" fill="#c8243f"/>
<circle cx="298.4" cy="85.0" r="0.99" fill="#c8243f"/>
<circle cx="257.3" cy="47.0" r="1.03" fill="#c8243f"/>
<circle cx="263.6" cy="100.2" r="0.80" fill="#c8243f"/>
<circle cx="295.8" cy="60.7" r="1.09" fill="#c8243f"/>
<circle cx="242.1" cy="66.3" r="0.89" fill="#c8243f"/>
<circle cx="289.4" cy="97.6" r="0.89" fill="#c8243f"/>
<circle cx="273.6" cy="44.5" r="1.08" fill="#c8243f"/>
<circle cx="249.6" cy="91.0" r="0.80" fill="#c8243f"/>
<circle cx="301.1" cy="75.3" r="1.03" fill="#c8243f"/>
<circle cx="249.0" cy="52.6" r="0.98" fill="#c8243f"/>
<circle cx="274.3" cy="102.0" r="0.82" fill="#c8243f"/>
<circle cx="289.6" cy="51.3" r="1.10" fill="#c8243f"/>
<circle cx="241.9" cy="76.0" r="0.84" fill="#c8243f"/>
<circle cx="296.5" cy="90.5" r="0.95" fill="#c8243f"/>
<circle cx="263.0" cy="44.7" r="1.05" fill="#c8243f"/>
<circle cx="258.2" cy="98.0" r="0.79" fill="#c8243f"/>
<circle cx="299.4" cy="65.6" r="1.07" fill="#c8243f"/>
<circle cx="243.3" cy="59.9" r="0.91" fill="#c8243f"/>
<circle cx="284.0" cy="100.3" r="0.86" fill="#c8243f"/>
<circle cx="280.7" cy="45.9" r="1.09" fill="#c8243f"/>
<circle cx="245.4" cy="85.6" r="0.80" fill="#c8243f"/>
<circle cx="301.1" cy="81.7" r="0.99" fill="#c8243f"/>
<circle cx="253.9" cy="47.7" r="1.00" fill="#c8243f"/>
<circle cx="268.3" cy="101.7" r="0.79" fill="#c8243f"/>
<circle cx="294.5" cy="55.9" r="1.09" fill="#c8243f"/>
<circle cx="241.0" cy="68.7" r="0.86" fill="#c8243f"/>
<circle cx="293.9" cy="95.0" r="0.90" fill="#c8243f"/>
<circle cx="270.1" cy="42.6" r="1.06" fill="#c8243f"/>
<circle cx="252.4" cy="94.2" r="0.77" fill="#c8243f"/>
<circle cx="302.0" cy="71.2" r="1.03" fill="#c8243f"/>
<circle cx="246.1" cy="53.7" r="0.93" fill="#c8243f"/>
<circle cx="278.8" cy="102.1" r="0.81" fill="#c8243f"/>
<circle cx="286.7" cy="48.1" r="1.09" fill="#c8243f"/>
<circle cx="242.2" cy="78.9" r="0.81" fill="#c8243f"/>
<circle cx="300.1" cy="86.9" r="0.95" fill="#c8243f"/>
<circle cx="259.6" cy="43.9" r="1.02" fill="#c8243f"/>
<circle cx="261.9" cy="99.9" r="0.77" fill="#c8243f"/>
<circle cx="299.3" cy="61.0" r="1.06" fill="#c8243f"/>
<circle cx="241.7" cy="63.2" r="0.88" fill="#c8243f"/>
<circle cx="289.1" cy="98.9" r="0.85" fill="#c8243f"/>
<circle cx="277.0" cy="42.9" r="1.07" fill="#c8243f"/>
<circle cx="247.4" cy="89.0" r="0.77" fill="#c8243f"/>
<circle cx="302.8" cy="77.9" r="0.99" fill="#c8243f"/>
<circle cx="250.3" cy="48.7" r="0.96" fill="#c8243f"/>
<circle cx="272.4" cy="102.5" r="0.78" fill="#c8243f"/>
<circle cx="292.8" cy="51.2" r="1.08" fill="#c8243f"/>
<circle cx="240.5" cy="71.8" r="0.82" fill="#c8243f"/>
<circle cx="297.6" cy="92.1" r="0.90" fill="#c8243f"/>
<circle cx="266.5" cy="42.0" r="1.04" fill="#c8243f"/>
<circle cx="255.2" cy="96.5" r="0.75" fill="#c8243f"/>
<circle cx="302.2" cy="66.3" r="1.04" fill="#c8243f"/>
<circle cx="243.8" cy="55.5" r="0.89" fill="#c8243f"/>
<circle cx="283.5" cy="101.5" r="0.81" fill="#c8243f"/>
<circle cx="284.2" cy="44.8" r="1.07" fill="#c8243f"/>
<circle cx="243.6" cy="83.0" r="0.77" fill="#c8243f"/>
<circle cx="302.5" cy="83.5" r="0.95" fill="#c8243f"/>
<circle cx="255.9" cy="43.8" r="0.98" fill="#c8243f"/>
<circle cx="265.6" cy="101.4" r="0.75" fill="#c8243f"/>
<circle cx="298.0" cy="56.4" r="1.06" fill="#c8243f"/>
<circle cx="240.6" cy="65.7" r="0.84" fill="#c8243f"/>
<circle cx="292.9" cy="96.9" r="0.86" fill="#c8243f"/>
<circle cx="272.4" cy="41.4" r="1.05" fill="#c8243f"/>
<circle cx="249.6" cy="91.8" r="0.74" fill="#c8243f"/>
<circle cx="304.3" cy="72.5" r="1.00" fill="#c8243f"/>
<circle cx="247.2" cy="50.4" r="0.92" fill="#c8243f"/>
<circle cx="277.0" cy="102.7" r="0.77" fill="#c8243f"/>
<circle cx="290.3" cy="47.6" r="1.07" fill="#c8243f"/>
<circle cx="240.9" cy="76.3" r="0.77" fill="#c8243f"/>
<circle cx="300.2" cy="89.4" r="0.91" fill="#c8243f"/>
<circle cx="262.8" cy="41.2" r="1.01" fill="#c8243f"/>
<circle cx="258.9" cy="98.8" r="0.72" fill="#c8243f"/>
<circle cx="301.8" cy="62.0" r="1.04" fill="#c8243f"/>
<circle cx="241.8" cy="59.2" r="0.86" fill="#c8243f"/>
<circle cx="287.5" cy="100.3" r="0.81" fill="#c8243f"/>
<circle cx="280.6" cy="41.9" r="1.05" fill="#c8243f"/>
<circle cx="245.5" cy="86.8" r="0.74" fill="#c8243f"/>
<circle cx="304.4" cy="78.9" r="0.96" fill="#c8243f"/>
<circle cx="251.9" cy="45.3" r="0.94" fill="#c8243f"/>
<circle cx="270.0" cy="102.5" r="0.74" fill="#c8243f"/>
<circle cx="296.5" cy="52.2" r="1.05" fill="#c8243f"/>
<circle cx="239.9" cy="68.8" r="0.80" fill="#c8243f"/>
<circle cx="297.4" cy="93.8" r="0.86" fill="#c8243f"/>
<circle cx="269.5" cy="39.3" r="1.02" fill="#c8243f"/>
<circle cx="253.3" cy="95.1" r="0.72" fill="#c8243f"/>
<circle cx="304.5" cy="68.3" r="1.00" fill="#c8243f"/>
<circle cx="244.4" cy="52.5" r="0.88" fill="#c8243f"/>
<circle cx="281.6" cy="102.4" r="0.77" fill="#c8243f"/>
<circle cx="287.2" cy="44.2" r="1.05" fill="#c8243f"/>
<circle cx="242.1" cy="80.3" r="0.74" fill="#c8243f"/>
<circle cx="303.3" cy="85.2" r="0.91" fill="#c8243f"/>
<circle cx="258.2" cy="41.4" r="0.97" fill="#c8243f"/>
<circle cx="263.4" cy="100.8" r="0.72" fill="#c8243f"/>
<circle cx="300.9" cy="56.9" r="1.03" fill="#c8243f"/>
<circle cx="240.3" cy="62.2" r="0.82" fill="#c8243f"/>
<circle cx="292.0" cy="98.5" r="0.81" fill="#c8243f"/>
<circle cx="276.7" cy="39.8" r="1.03" fill="#c8243f"/>
<circle cx="247.7" cy="89.8" r="0.72" fill="#c8243f"/>
<circle cx="306.2" cy="74.0" r="0.96" fill="#c8243f"/>
<circle cx="248.8" cy="46.9" r="0.91" fill="#c8243f"/>
<circle cx="275.0" cy="103.0" r="0.73" fill="#c8243f"/>
<circle cx="293.9" cy="48.0" r="1.04" fill="#c8243f"/>
<circle cx="240.0" cy="73.1" r="0.76" fill="#c8243f"/>
<circle cx="300.6" cy="91.1" r="0.86" fill="#c8243f"/>
<circle cx="265.0" cy="39.2" r="0.99" fill="#c8243f"/>
<circle cx="304.6" cy="63.6" r="1.00" fill="#c8243f"/>
<circle cx="242.4" cy="54.9" r="0.84" fill="#c8243f"/>
<circle cx="287.1" cy="101.1" r="0.77" fill="#c8243f"/>
<circle cx="283.7" cy="41.0" r="1.03" fill="#c8243f"/>
<circle cx="305.5" cy="81.0" r="0.92" fill="#c8243f"/>
<circle cx="254.2" cy="42.2" r="0.93" fill="#c8243f"/>
<circle cx="298.9" cy="52.5" r="1.03" fill="#c8243f"/>
<circle cx="239.5" cy="65.8" r="0.78" fill="#c8243f"/>
<circle cx="296.3" cy="95.8" r="0.82" fill="#c8243f"/>
<circle cx="272.5" cy="38.0" r="1.01" fill="#c8243f"/>
<circle cx="306.9" cy="70.0" r="0.96" fill="#c8243f"/>
<circle cx="245.8" cy="49.0" r="0.87" fill="#c8243f"/>
<circle cx="279.7" cy="102.8" r="0.73" fill="#c8243f"/>
<circle cx="290.9" cy="43.8" r="1.03" fill="#c8243f"/>
<circle cx="240.6" cy="76.3" r="0.73" fill="#c8243f"/>
<circle cx="303.6" cy="87.0" r="0.87" fill="#c8243f"/>
<circle cx="260.8" cy="39.1" r="0.96" fill="#c8243f"/>
<circle cx="303.7" cy="58.1" r="1.00" fill="#c8243f"/>
<circle cx="240.5" cy="59.0" r="0.80" fill="#c8243f"/>
<circle cx="290.6" cy="99.7" r="0.77" fill="#c8243f"/>
<circle cx="279.2" cy="38.4" r="1.01" fill="#c8243f"/>
<circle cx="307.4" cy="76.6" r="0.92" fill="#c8243f"/>
<circle cx="250.8" cy="43.5" r="0.89" fill="#c8243f"/>
<circle cx="297.1" cy="48.2" r="1.02" fill="#c8243f"/>
<circle cx="239.4" cy="69.7" r="0.74" fill="#c8243f"/>
<circle cx="300.1" cy="92.6" r="0.82" fill="#c8243f"/>
<circle cx="268.3" cy="36.9" r="0.97" fill="#c8243f"/>
<circle cx="306.7" cy="64.8" r="0.97" fill="#c8243f"/>
<circle cx="243.4" cy="51.7" r="0.83" fill="#c8243f"/>
<circle cx="285.0" cy="101.9" r="0.73" fill="#c8243f"/>
<circle cx="287.1" cy="40.7" r="1.01" fill="#c8243f"/>
<circle cx="306.1" cy="83.0" r="0.88" fill="#c8243f"/>
<circle cx="257.0" cy="39.5" r="0.92" fill="#c8243f"/>
<circle cx="301.9" cy="53.1" r="1.00" fill="#c8243f"/>
<circle cx="239.6" cy="61.4" r="0.76" fill="#c8243f"/>
<circle cx="294.9" cy="97.4" r="0.78" fill="#c8243f"/>
<circle cx="275.5" cy="36.4" r="0.98" fill="#c8243f"/>
<circle cx="308.2" cy="71.7" r="0.93" fill="#c8243f"/>
<circle cx="247.9" cy="45.5" r="0.86" fill="#c8243f"/>
<circle cx="293.6" cy="44.0" r="1.01" fill="#c8243f"/>
<circle cx="303.3" cy="89.2" r="0.83" fill="#c8243f"/>
<circle cx="263.6" cy="36.9" r="0.95" fill="#c8243f"/>
<circle cx="306.1" cy="59.7" r="0.97" fill="#c8243f"/>
<circle cx="241.5" cy="54.8" r="0.79" fill="#c8243f"/>
<circle cx="289.3" cy="100.5" r="0.73" fill="#c8243f"/>
<circle cx="283.6" cy="38.1" r="1.00" fill="#c8243f"/>
<circle cx="308.1" cy="78.0" r="0.89" fill="#c8243f"/>
<circle cx="253.3" cy="40.7" r="0.89" fill="#c8243f"/>
<circle cx="300.3" cy="49.4" r="0.99" fill="#c8243f"/>
<circle cx="239.2" cy="65.6" r="0.72" fill="#c8243f"/>
<circle cx="299.6" cy="94.0" r="0.78" fill="#c8243f"/>
<circle cx="272.0" cy="35.5" r="0.96" fill="#c8243f"/>
<circle cx="308.7" cy="66.1" r="0.93" fill="#c8243f"/>
<circle cx="245.2" cy="47.9" r="0.82" fill="#c8243f"/>
<circle cx="291.1" cy="40.7" r="0.99" fill="#c8243f"/>
<circle cx="306.2" cy="84.8" r="0.84" fill="#c8243f"/>
<circle cx="260.3" cy="36.8" r="0.91" fill="#c8243f"/>
<circle cx="304.5" cy="54.8" r="0.97" fill="#c8243f"/>
<circle cx="240.1" cy="58.5" r="0.75" fill="#c8243f"/>
<circle cx="294.0" cy="98.3" r="0.72" fill="#c8243f"/>
<circle cx="278.7" cy="36.1" r="0.98" fill="#c8243f"/>
<circle cx="309.4" cy="73.4" r="0.89" fill="#c8243f"/>
<circle cx="249.8" cy="42.5" r="0.85" fill="#c8243f"/>
<circle cx="297.1" cy="45.1" r="0.98" fill="#c8243f"/>
<circle cx="302.9" cy="90.7" r="0.79" fill="#c8243f"/>
<circle cx="267.4" cy="34.8" r="0.93" fill="#c8243f"/>
<circle cx="308.1" cy="61.5" r="0.93" fill="#c8243f"/>
<circle cx="242.6" cy="51.3" r="0.77" fill="#c8243f"/>
<circle cx="287.2" cy="37.8" r="0.97" fill="#c8243f"/>
<circle cx="308.5" cy="80.5" r="0.84" fill="#c8243f"/>
<circle cx="256.3" cy="37.5" r="0.87" fill="#c8243f"/>
<circle cx="303.3" cy="50.6" r="0.95" fill="#c8243f"/>
<circle cx="297.9" cy="95.7" r="0.73" fill="#c8243f"/>
<circle cx="274.8" cy="34.5" r="0.95" fill="#c8243f"/>
<circle cx="310.0" cy="68.0" r="0.89" fill="#c8243f"/>
<circle cx="246.6" cy="45.0" r="0.80" fill="#c8243f"/>
<circle cx="294.0" cy="41.4" r="0.97" fill="#c8243f"/>
<circle cx="305.9" cy="86.8" r="0.79" fill="#c8243f"/>
<circle cx="262.6" cy="35.2" r="0.90" fill="#c8243f"/>
<circle cx="307.0" cy="56.4" r="0.93" fill="#c8243f"/>
<circle cx="241.1" cy="54.5" r="0.73" fill="#c8243f"/>
<circle cx="282.3" cy="35.3" r="0.95" fill="#c8243f"/>
<circle cx="309.9" cy="75.5" r="0.85" fill="#c8243f"/>
<circle cx="252.2" cy="39.8" r="0.83" fill="#c8243f"/>
<circle cx="300.0" cy="46.1" r="0.96" fill="#c8243f"/>
<circle cx="302.1" cy="92.1" r="0.74" fill="#c8243f"/>
<circle cx="270.9" cy="33.4" r="0.91" fill="#c8243f"/>
<circle cx="309.7" cy="63.3" r="0.90" fill="#c8243f"/>
<circle cx="244.3" cy="48.0" r="0.77" fill="#c8243f"/>
<circle cx="290.5" cy="38.0" r="0.95" fill="#c8243f"/>
<circle cx="308.3" cy="82.5" r="0.80" fill="#c8243f"/>
<circle cx="259.2" cy="35.5" r="0.86" fill="#c8243f"/>
<circle cx="305.4" cy="51.7" r="0.92" fill="#c8243f"/>
<circle cx="278.3" cy="33.6" r="0.93" fill="#c8243f"/>
<circle cx="310.9" cy="70.2" r="0.85" fill="#c8243f"/>
<circle cx="249.2" cy="41.8" r="0.80" fill="#c8243f"/>
<circle cx="297.3" cy="42.3" r="0.94" fill="#c8243f"/>
<circle cx="305.3" cy="88.4" r="0.75" fill="#c8243f"/>
<circle cx="266.1" cy="33.4" r="0.88" fill="#c8243f"/>
<circle cx="308.9" cy="58.5" r="0.90" fill="#c8243f"/>
<circle cx="242.6" cy="50.9" r="0.72" fill="#c8243f"/>
<circle cx="286.3" cy="35.4" r="0.93" fill="#c8243f"/>
<circle cx="310.2" cy="77.9" r="0.81" fill="#c8243f"/>
<circle cx="254.8" cy="37.2" r="0.82" fill="#c8243f"/>
<circle cx="302.7" cy="47.1" r="0.92" fill="#c8243f"/>
<circle cx="273.8" cy="32.5" r="0.90" fill="#c8243f"/>
<circle cx="311.1" cy="65.1" r="0.86" fill="#c8243f"/>
<circle cx="245.9" cy="45.1" r="0.75" fill="#c8243f"/>
<circle cx="293.1" cy="38.6" r="0.93" fill="#c8243f"/>
<circle cx="308.0" cy="84.0" r="0.76" fill="#c8243f"/>
<circle cx="261.8" cy="33.7" r="0.84" fill="#c8243f"/>
<circle cx="307.5" cy="53.6" r="0.89" fill="#c8243f"/>
<circle cx="281.8" cy="33.2" r="0.91" fill="#c8243f"/>
<circle cx="311.5" cy="72.5" r="0.81" fill="#c8243f"/>
<circle cx="251.5" cy="39.1" r="0.77" fill="#c8243f"/>
<circle cx="299.6" cy="42.8" r="0.91" fill="#c8243f"/>
<circle cx="269.3" cy="31.9" r="0.86" fill="#c8243f"/>
<circle cx="310.4" cy="59.6" r="0.86" fill="#c8243f"/>
<circle cx="289.6" cy="35.6" r="0.91" fill="#c8243f"/>
<circle cx="310.3" cy="79.0" r="0.77" fill="#c8243f"/>
<circle cx="258.3" cy="34.8" r="0.81" fill="#c8243f"/>
<circle cx="305.0" cy="48.1" r="0.89" fill="#c8243f"/>
<circle cx="277.0" cy="31.5" r="0.87" fill="#c8243f"/>
<circle cx="311.8" cy="67.3" r="0.82" fill="#c8243f"/>
<circle cx="248.8" cy="41.5" r="0.74" fill="#c8243f"/>
<circle cx="296.6" cy="39.2" r="0.89" fill="#c8243f"/>
<circle cx="265.6" cy="31.9" r="0.82" fill="#c8243f"/>
<circle cx="309.4" cy="55.6" r="0.86" fill="#c8243f"/>
<circle cx="285.0" cy="33.0" r="0.88" fill="#c8243f"/>
<circle cx="311.6" cy="74.7" r="0.77" fill="#c8243f"/>
<circle cx="254.4" cy="36.7" r="0.77" fill="#c8243f"/>
<circle cx="302.7" cy="44.5" r="0.88" fill="#c8243f"/>
<circle cx="272.9" cy="31.0" r="0.85" fill="#c8243f"/>
<circle cx="311.7" cy="62.0" r="0.82" fill="#c8243f"/>
<circle cx="293.3" cy="36.4" r="0.88" fill="#c8243f"/>
<circle cx="309.7" cy="81.0" r="0.72" fill="#c8243f"/>
<circle cx="261.2" cy="33.1" r="0.79" fill="#c8243f"/>
<circle cx="307.4" cy="50.4" r="0.85" fill="#c8243f"/>
<circle cx="281.1" cy="31.5" r="0.85" fill="#c8243f"/>
<circle cx="312.3" cy="69.7" r="0.78" fill="#c8243f"/>
<circle cx="251.1" cy="39.1" r="0.73" fill="#c8243f"/>
<circle cx="299.2" cy="40.1" r="0.86" fill="#c8243f"/>
<circle cx="268.7" cy="31.0" r="0.81" fill="#c8243f"/>
<circle cx="310.7" cy="57.0" r="0.82" fill="#c8243f"/>
<circle cx="288.7" cy="33.6" r="0.86" fill="#c8243f"/>
<circle cx="311.3" cy="76.4" r="0.73" fill="#c8243f"/>
<circle cx="257.4" cy="34.6" r="0.75" fill="#c8243f"/>
<circle cx="305.0" cy="45.7" r="0.84" fill="#c8243f"/>
<circle cx="276.7" cy="30.4" r="0.82" fill="#c8243f"/>
<circle cx="312.4" cy="64.0" r="0.78" fill="#c8243f"/>
<circle cx="295.6" cy="37.0" r="0.85" fill="#c8243f"/>
<circle cx="264.4" cy="31.5" r="0.77" fill="#c8243f"/>
<circle cx="309.0" cy="52.3" r="0.82" fill="#c8243f"/>
<circle cx="284.4" cy="31.5" r="0.83" fill="#c8243f"/>
<circle cx="312.5" cy="71.1" r="0.73" fill="#c8243f"/>
<circle cx="254.2" cy="36.6" r="0.72" fill="#c8243f"/>
<circle cx="302.0" cy="41.9" r="0.83" fill="#c8243f"/>
<circle cx="272.6" cy="30.1" r="0.80" fill="#c8243f"/>
<circle cx="311.7" cy="58.8" r="0.78" fill="#c8243f"/>
<circle cx="292.3" cy="34.4" r="0.82" fill="#c8243f"/>
<circle cx="260.9" cy="32.7" r="0.74" fill="#c8243f"/>
<circle cx="307.0" cy="47.7" r="0.80" fill="#c8243f"/>
<circle cx="280.1" cy="30.2" r="0.80" fill="#c8243f"/>
<circle cx="312.8" cy="66.1" r="0.73" fill="#c8243f"/>
<circle cx="298.7" cy="38.1" r="0.81" fill="#c8243f"/>
<circle cx="268.4" cy="30.3" r="0.76" fill="#c8243f"/>
<circle cx="310.3" cy="53.7" r="0.78" fill="#c8243f"/>
<circle cx="287.5" cy="31.9" r="0.80" fill="#c8243f"/>
<circle cx="303.7" cy="42.9" r="0.80" fill="#c8243f"/>
<circle cx="275.9" cy="29.6" r="0.77" fill="#c8243f"/>
<circle cx="312.4" cy="61.2" r="0.74" fill="#c8243f"/>
<circle cx="294.6" cy="35.1" r="0.80" fill="#c8243f"/>
<circle cx="264.5" cy="31.2" r="0.72" fill="#c8243f"/>
<circle cx="308.9" cy="50.2" r="0.77" fill="#c8243f"/>
<circle cx="284.1" cy="30.6" r="0.78" fill="#c8243f"/>
<circle cx="301.3" cy="40.0" r="0.78" fill="#c8243f"/>
<circle cx="271.5" cy="29.7" r="0.73" fill="#c8243f"/>
<circle cx="311.4" cy="56.3" r="0.73" fill="#c8243f"/>
<circle cx="290.8" cy="32.8" r="0.77" fill="#c8243f"/>
<circle cx="306.0" cy="45.2" r="0.76" fill="#c8243f"/>
<circle cx="279.3" cy="29.6" r="0.75" fill="#c8243f"/>
<circle cx="297.1" cy="36.4" r="0.77" fill="#c8243f"/>
<circle cx="309.6" cy="51.2" r="0.73" fill="#c8243f"/>
<circle cx="286.7" cy="31.1" r="0.75" fill="#c8243f"/>
<circle cx="303.3" cy="41.6" r="0.75" fill="#c8243f"/>
<circle cx="275.1" cy="29.4" r="0.72" fill="#c8243f"/>
<circle cx="293.6" cy="33.9" r="0.75" fill="#c8243f"/>
<circle cx="307.6" cy="47.3" r="0.72" fill="#c8243f"/>
<circle cx="282.4" cy="30.0" r="0.73" fill="#c8243f"/>
<circle cx="299.7" cy="38.0" r="0.73" fill="#c8243f"/>
<circle cx="289.9" cy="32.1" r="0.72" fill="#c8243f"/>
<circle cx="304.5" cy="43.0" r="0.72" fill="#c8243f"/>
<circle cx="295.9" cy="35.3" r="0.72" fill="#c8243f"/>
<circle cx="276" cy="66.2" r="36.8" fill="url(#edgeC)"/>
<text x="259.9" y="119.8" font-size="9.5" fill="#111" stroke="#111" stroke-width="0.22">Si@COF</text>
<rect x="282.6" y="62.8" width="9.6" height="9.6" fill="none" stroke="#111" stroke-width="1.2"/>
<path d="M292.4 62.6L372.4 4.2M292.4 72.5L372.4 127" stroke="#333" stroke-width="1"/>
<rect x="372.4" y="4.2" width="121.4" height="122.8" fill="#fff" stroke="#111" stroke-width="1.4"/>
<g transform="translate(4.5 2.8)" opacity="0.55">
<path d="M398.20 29.10L402.88 31.80L402.88 37.20L398.20 39.90L393.52 37.20L393.52 31.80ZM401.32 32.70L401.32 36.30M398.20 38.10L395.08 36.30M395.08 32.70L398.20 30.90M398.20 29.10L398.20 26.10M402.88 31.80L406.34 29.80M406.34 29.80L409.37 31.55M402.88 37.20L405.47 38.70M398.20 39.90L398.20 43.90M398.20 43.90L401.23 45.65M393.52 37.20L390.93 38.70M393.52 31.80L390.06 29.80M390.06 29.80L390.06 26.30" stroke="#f09a9a" stroke-width="0.85" fill="none"/>
<circle cx="398.20" cy="24.70" r="1.45" fill="none" stroke="#e63c3c" stroke-width="0.8"/>
<circle cx="406.69" cy="39.40" r="1.45" fill="none" stroke="#e63c3c" stroke-width="0.8"/>
<circle cx="389.71" cy="39.40" r="1.45" fill="none" stroke="#e63c3c" stroke-width="0.8"/>
<path d="M442.00 24.90L437.32 22.20L437.32 16.80L442.00 14.10L446.68 16.80L446.68 22.20ZM438.88 21.30L438.88 17.70M442.00 15.90L445.12 17.70M445.12 21.30L442.00 23.10M442.00 24.90L442.00 27.90M437.32 22.20L433.86 24.20M433.86 24.20L430.83 22.45M437.32 16.80L434.73 15.30M442.00 14.10L442.00 10.10M442.00 10.10L438.97 8.35M446.68 16.80L449.27 15.30M446.68 22.20L450.14 24.20M450.14 24.20L450.14 27.70" stroke="#f09a9a" stroke-width="0.85" fill="none"/>
<circle cx="442.00" cy="29.30" r="1.45" fill="none" stroke="#e63c3c" stroke-width="0.8"/>
<circle cx="433.51" cy="14.60" r="1.45" fill="none" stroke="#e63c3c" stroke-width="0.8"/>
<circle cx="450.49" cy="14.60" r="1.45" fill="none" stroke="#e63c3c" stroke-width="0.8"/>
<path d="M477.00 44.60L481.68 47.30L481.68 52.70L477.00 55.40L472.32 52.70L472.32 47.30ZM480.12 48.20L480.12 51.80M477.00 53.60L473.88 51.80M473.88 48.20L477.00 46.40M477.00 44.60L477.00 41.60M481.68 47.30L485.14 45.30M485.14 45.30L488.17 47.05M481.68 52.70L484.27 54.20M477.00 55.40L477.00 59.40M477.00 59.40L480.03 61.15M472.32 52.70L469.73 54.20M472.32 47.30L468.86 45.30M468.86 45.30L468.86 41.80" stroke="#f09a9a" stroke-width="0.85" fill="none"/>
<circle cx="477.00" cy="40.20" r="1.45" fill="none" stroke="#e63c3c" stroke-width="0.8"/>
<circle cx="485.49" cy="54.90" r="1.45" fill="none" stroke="#e63c3c" stroke-width="0.8"/>
<circle cx="468.51" cy="54.90" r="1.45" fill="none" stroke="#e63c3c" stroke-width="0.8"/>
<path d="M464.00 100.40L459.32 97.70L459.32 92.30L464.00 89.60L468.68 92.30L468.68 97.70ZM460.88 96.80L460.88 93.20M464.00 91.40L467.12 93.20M467.12 96.80L464.00 98.60M464.00 100.40L464.00 103.40M459.32 97.70L455.86 99.70M455.86 99.70L452.83 97.95M459.32 92.30L456.73 90.80M464.00 89.60L464.00 85.60M464.00 85.60L460.97 83.85M468.68 92.30L471.27 90.80M468.68 97.70L472.14 99.70M472.14 99.70L472.14 103.20" stroke="#f09a9a" stroke-width="0.85" fill="none"/>
<circle cx="464.00" cy="104.80" r="1.45" fill="none" stroke="#e63c3c" stroke-width="0.8"/>
<circle cx="455.51" cy="90.10" r="1.45" fill="none" stroke="#e63c3c" stroke-width="0.8"/>
<circle cx="472.49" cy="90.10" r="1.45" fill="none" stroke="#e63c3c" stroke-width="0.8"/>
<path d="M425.00 106.60L429.68 109.30L429.68 114.70L425.00 117.40L420.32 114.70L420.32 109.30ZM428.12 110.20L428.12 113.80M425.00 115.60L421.88 113.80M421.88 110.20L425.00 108.40M425.00 106.60L425.00 103.60M429.68 109.30L433.14 107.30M433.14 107.30L436.17 109.05M429.68 114.70L432.27 116.20M425.00 117.40L425.00 121.40M425.00 121.40L428.03 123.15M420.32 114.70L417.73 116.20M420.32 109.30L416.86 107.30M416.86 107.30L416.86 103.80" stroke="#f09a9a" stroke-width="0.85" fill="none"/>
<circle cx="425.00" cy="102.20" r="1.45" fill="none" stroke="#e63c3c" stroke-width="0.8"/>
<circle cx="433.49" cy="116.90" r="1.45" fill="none" stroke="#e63c3c" stroke-width="0.8"/>
<circle cx="416.51" cy="116.90" r="1.45" fill="none" stroke="#e63c3c" stroke-width="0.8"/>
<path d="M391.00 86.40L386.32 83.70L386.32 78.30L391.00 75.60L395.68 78.30L395.68 83.70ZM387.88 82.80L387.88 79.20M391.00 77.40L394.12 79.20M394.12 82.80L391.00 84.60M391.00 86.40L391.00 89.40M386.32 83.70L382.86 85.70M382.86 85.70L379.83 83.95M386.32 78.30L383.73 76.80M391.00 75.60L391.00 71.60M391.00 71.60L387.97 69.85M395.68 78.30L398.27 76.80M395.68 83.70L399.14 85.70M399.14 85.70L399.14 89.20" stroke="#f09a9a" stroke-width="0.85" fill="none"/>
<circle cx="391.00" cy="90.80" r="1.45" fill="none" stroke="#e63c3c" stroke-width="0.8"/>
<circle cx="382.51" cy="76.10" r="1.45" fill="none" stroke="#e63c3c" stroke-width="0.8"/>
<circle cx="399.49" cy="76.10" r="1.45" fill="none" stroke="#e63c3c" stroke-width="0.8"/>
<path d="M424.50 31.60L420.00 34.20L415.50 31.60L415.50 26.40L420.00 23.80L424.50 26.40ZM423.03 30.75L420.00 32.50M416.97 30.75L416.97 27.25M420.00 25.50L423.03 27.25M424.50 31.60L428.40 33.85M415.50 26.40L411.60 24.15M420.00 34.20L420.00 37.70" stroke="#98a4f2" stroke-width="0.85" fill="none"/>
<path d="M428.40 33.85l2.11 4.53M411.60 24.15l-2.11 -4.53" stroke="#98a4f2" stroke-width="0.7" stroke-dasharray="1 0.8" fill="none"/>
<path d="M462.12 32.90L458.78 36.89L453.66 35.98L451.88 31.10L455.22 27.11L460.34 28.02ZM460.45 32.61L458.20 35.29M454.75 34.68L453.55 31.39M455.80 28.71L459.25 29.32M462.12 32.90L466.55 33.68M451.88 31.10L447.45 30.32M458.78 36.89L459.98 40.18" stroke="#98a4f2" stroke-width="0.85" fill="none"/>
<path d="M466.55 33.68l3.54 3.54M447.45 30.32l-3.54 -3.54" stroke="#98a4f2" stroke-width="0.7" stroke-dasharray="1 0.8" fill="none"/>
<path d="M470.78 76.89L465.66 75.98L463.88 71.10L467.22 67.11L472.34 68.02L474.12 72.90ZM470.20 75.29L466.75 74.68M465.55 71.39L467.80 68.71M471.25 69.32L472.45 72.61M470.78 76.89L472.32 81.12M467.22 67.11L465.68 62.88M465.66 75.98L463.41 78.66" stroke="#98a4f2" stroke-width="0.85" fill="none"/>
<path d="M472.32 81.12l-1.29 4.83M465.68 62.88l1.29 -4.83" stroke="#98a4f2" stroke-width="0.7" stroke-dasharray="1 0.8" fill="none"/>
<path d="M451.89 103.78L447.90 107.12L443.02 105.34L442.11 100.22L446.10 96.88L450.98 98.66ZM450.29 103.20L447.61 105.45M444.32 104.25L443.71 100.80M446.39 98.55L449.68 99.75M451.89 103.78L456.12 105.32M442.11 100.22L437.88 98.68M447.90 107.12L448.51 110.57" stroke="#98a4f2" stroke-width="0.85" fill="none"/>
<path d="M456.12 105.32l2.87 4.10M437.88 98.68l-2.87 -4.10" stroke="#98a4f2" stroke-width="0.7" stroke-dasharray="1 0.8" fill="none"/>
<path d="M419.20 97.00L416.60 101.50L411.40 101.50L408.80 97.00L411.40 92.50L416.60 92.50ZM417.50 97.00L415.75 100.03M412.25 100.03L410.50 97.00M412.25 93.97L415.75 93.97M419.20 97.00L423.70 97.00M408.80 97.00L404.30 97.00M416.60 101.50L418.35 104.53" stroke="#98a4f2" stroke-width="0.85" fill="none"/>
<path d="M423.70 97.00l4.10 2.87M404.30 97.00l-4.10 -2.87" stroke="#98a4f2" stroke-width="0.7" stroke-dasharray="1 0.8" fill="none"/>
<path d="M396.90 61.12L392.02 59.34L391.11 54.22L395.10 50.88L399.98 52.66L400.89 57.78ZM396.61 59.45L393.32 58.25M392.71 54.80L395.39 52.55M398.68 53.75L399.29 57.20M396.90 61.12L397.68 65.55M395.10 50.88L394.32 46.45M392.02 59.34L389.34 61.59" stroke="#98a4f2" stroke-width="0.85" fill="none"/>
<path d="M397.68 65.55l-2.11 4.53M394.32 46.45l2.11 -4.53" stroke="#98a4f2" stroke-width="0.7" stroke-dasharray="1 0.8" fill="none"/>
</g>
<g>
<path d="M398.20 29.10L402.88 31.80L402.88 37.20L398.20 39.90L393.52 37.20L393.52 31.80ZM401.32 32.70L401.32 36.30M398.20 38.10L395.08 36.30M395.08 32.70L398.20 30.90M398.20 29.10L398.20 26.10M402.88 31.80L406.34 29.80M406.34 29.80L409.37 31.55M402.88 37.20L405.47 38.70M398.20 39.90L398.20 43.90M398.20 43.90L401.23 45.65M393.52 37.20L390.93 38.70M393.52 31.80L390.06 29.80M390.06 29.80L390.06 26.30" stroke="#f09a9a" stroke-width="0.85" fill="none"/>
<circle cx="398.20" cy="24.70" r="1.45" fill="none" stroke="#e63c3c" stroke-width="0.8"/>
<circle cx="406.69" cy="39.40" r="1.45" fill="none" stroke="#e63c3c" stroke-width="0.8"/>
<circle cx="389.71" cy="39.40" r="1.45" fill="none" stroke="#e63c3c" stroke-width="0.8"/>
<path d="M442.00 24.90L437.32 22.20L437.32 16.80L442.00 14.10L446.68 16.80L446.68 22.20ZM438.88 21.30L438.88 17.70M442.00 15.90L445.12 17.70M445.12 21.30L442.00 23.10M442.00 24.90L442.00 27.90M437.32 22.20L433.86 24.20M433.86 24.20L430.83 22.45M437.32 16.80L434.73 15.30M442.00 14.10L442.00 10.10M442.00 10.10L438.97 8.35M446.68 16.80L449.27 15.30M446.68 22.20L450.14 24.20M450.14 24.20L450.14 27.70" stroke="#f09a9a" stroke-width="0.85" fill="none"/>
<circle cx="442.00" cy="29.30" r="1.45" fill="none" stroke="#e63c3c" stroke-width="0.8"/>
<circle cx="433.51" cy="14.60" r="1.45" fill="none" stroke="#e63c3c" stroke-width="0.8"/>
<circle cx="450.49" cy="14.60" r="1.45" fill="none" stroke="#e63c3c" stroke-width="0.8"/>
<path d="M477.00 44.60L481.68 47.30L481.68 52.70L477.00 55.40L472.32 52.70L472.32 47.30ZM480.12 48.20L480.12 51.80M477.00 53.60L473.88 51.80M473.88 48.20L477.00 46.40M477.00 44.60L477.00 41.60M481.68 47.30L485.14 45.30M485.14 45.30L488.17 47.05M481.68 52.70L484.27 54.20M477.00 55.40L477.00 59.40M477.00 59.40L480.03 61.15M472.32 52.70L469.73 54.20M472.32 47.30L468.86 45.30M468.86 45.30L468.86 41.80" stroke="#f09a9a" stroke-width="0.85" fill="none"/>
<circle cx="477.00" cy="40.20" r="1.45" fill="none" stroke="#e63c3c" stroke-width="0.8"/>
<circle cx="485.49" cy="54.90" r="1.45" fill="none" stroke="#e63c3c" stroke-width="0.8"/>
<circle cx="468.51" cy="54.90" r="1.45" fill="none" stroke="#e63c3c" stroke-width="0.8"/>
<path d="M464.00 100.40L459.32 97.70L459.32 92.30L464.00 89.60L468.68 92.30L468.68 97.70ZM460.88 96.80L460.88 93.20M464.00 91.40L467.12 93.20M467.12 96.80L464.00 98.60M464.00 100.40L464.00 103.40M459.32 97.70L455.86 99.70M455.86 99.70L452.83 97.95M459.32 92.30L456.73 90.80M464.00 89.60L464.00 85.60M464.00 85.60L460.97 83.85M468.68 92.30L471.27 90.80M468.68 97.70L472.14 99.70M472.14 99.70L472.14 103.20" stroke="#f09a9a" stroke-width="0.85" fill="none"/>
<circle cx="464.00" cy="104.80" r="1.45" fill="none" stroke="#e63c3c" stroke-width="0.8"/>
<circle cx="455.51" cy="90.10" r="1.45" fill="none" stroke="#e63c3c" stroke-width="0.8"/>
<circle cx="472.49" cy="90.10" r="1.45" fill="none" stroke="#e63c3c" stroke-width="0.8"/>
<path d="M425.00 106.60L429.68 109.30L429.68 114.70L425.00 117.40L420.32 114.70L420.32 109.30ZM428.12 110.20L428.12 113.80M425.00 115.60L421.88 113.80M421.88 110.20L425.00 108.40M425.00 106.60L425.00 103.60M429.68 109.30L433.14 107.30M433.14 107.30L436.17 109.05M429.68 114.70L432.27 116.20M425.00 117.40L425.00 121.40M425.00 121.40L428.03 123.15M420.32 114.70L417.73 116.20M420.32 109.30L416.86 107.30M416.86 107.30L416.86 103.80" stroke="#f09a9a" stroke-width="0.85" fill="none"/>
<circle cx="425.00" cy="102.20" r="1.45" fill="none" stroke="#e63c3c" stroke-width="0.8"/>
<circle cx="433.49" cy="116.90" r="1.45" fill="none" stroke="#e63c3c" stroke-width="0.8"/>
<circle cx="416.51" cy="116.90" r="1.45" fill="none" stroke="#e63c3c" stroke-width="0.8"/>
<path d="M391.00 86.40L386.32 83.70L386.32 78.30L391.00 75.60L395.68 78.30L395.68 83.70ZM387.88 82.80L387.88 79.20M391.00 77.40L394.12 79.20M394.12 82.80L391.00 84.60M391.00 86.40L391.00 89.40M386.32 83.70L382.86 85.70M382.86 85.70L379.83 83.95M386.32 78.30L383.73 76.80M391.00 75.60L391.00 71.60M391.00 71.60L387.97 69.85M395.68 78.30L398.27 76.80M395.68 83.70L399.14 85.70M399.14 85.70L399.14 89.20" stroke="#f09a9a" stroke-width="0.85" fill="none"/>
<circle cx="391.00" cy="90.80" r="1.45" fill="none" stroke="#e63c3c" stroke-width="0.8"/>
<circle cx="382.51" cy="76.10" r="1.45" fill="none" stroke="#e63c3c" stroke-width="0.8"/>
<circle cx="399.49" cy="76.10" r="1.45" fill="none" stroke="#e63c3c" stroke-width="0.8"/>
<path d="M424.50 31.60L420.00 34.20L415.50 31.60L415.50 26.40L420.00 23.80L424.50 26.40ZM423.03 30.75L420.00 32.50M416.97 30.75L416.97 27.25M420.00 25.50L423.03 27.25M424.50 31.60L428.40 33.85M415.50 26.40L411.60 24.15M420.00 34.20L420.00 37.70" stroke="#98a4f2" stroke-width="0.85" fill="none"/>
<path d="M428.40 33.85l2.11 4.53M411.60 24.15l-2.11 -4.53" stroke="#98a4f2" stroke-width="0.7" stroke-dasharray="1 0.8" fill="none"/>
<text x="426" y="21" font-size="4.4" fill="#3a58ee" stroke="#3a58ee" stroke-width="0.22">NH</text>
<text x="410" y="35.5" font-size="4.4" fill="#3a58ee" stroke="#3a58ee" stroke-width="0.22">N</text>
<text x="419" y="39.5" font-size="4.4"><tspan fill="#3a58ee" stroke="#3a58ee" stroke-width="0.22">SO<tspan font-size="3" dy="0.7">3</tspan></tspan><tspan fill="#2ccf5a" dy="-0.7" stroke="#2ccf5a" stroke-width="0.22">Li</tspan></text>
<path d="M462.12 32.90L458.78 36.89L453.66 35.98L451.88 31.10L455.22 27.11L460.34 28.02ZM460.45 32.61L458.20 35.29M454.75 34.68L453.55 31.39M455.80 28.71L459.25 29.32M462.12 32.90L466.55 33.68M451.88 31.10L447.45 30.32M458.78 36.89L459.98 40.18" stroke="#98a4f2" stroke-width="0.85" fill="none"/>
<path d="M466.55 33.68l3.54 3.54M447.45 30.32l-3.54 -3.54" stroke="#98a4f2" stroke-width="0.7" stroke-dasharray="1 0.8" fill="none"/>
<text x="445.5" y="32" font-size="4.4" fill="#3a58ee" stroke="#3a58ee" stroke-width="0.22">HN</text>
<text x="464" y="41" font-size="4.4" fill="#3a58ee" stroke="#3a58ee" stroke-width="0.22">NH</text>
<text x="457" y="26" font-size="4.4"><tspan fill="#3a58ee" stroke="#3a58ee" stroke-width="0.22">SO<tspan font-size="3" dy="0.7">3</tspan></tspan><tspan fill="#2ccf5a" dy="-0.7" stroke="#2ccf5a" stroke-width="0.22">Li</tspan></text>
<path d="M470.78 76.89L465.66 75.98L463.88 71.10L467.22 67.11L472.34 68.02L474.12 72.90ZM470.20 75.29L466.75 74.68M465.55 71.39L467.80 68.71M471.25 69.32L472.45 72.61M470.78 76.89L472.32 81.12M467.22 67.11L465.68 62.88M465.66 75.98L463.41 78.66" stroke="#98a4f2" stroke-width="0.85" fill="none"/>
<path d="M472.32 81.12l-1.29 4.83M465.68 62.88l1.29 -4.83" stroke="#98a4f2" stroke-width="0.7" stroke-dasharray="1 0.8" fill="none"/>
<text x="470" y="85" font-size="4.4" fill="#3a58ee" stroke="#3a58ee" stroke-width="0.22">NH</text>
<text x="453" y="70" font-size="4.4"><tspan fill="#2ccf5a" stroke="#2ccf5a" stroke-width="0.22">Li</tspan><tspan fill="#3a58ee" stroke="#3a58ee" stroke-width="0.22">O<tspan font-size="3" dy="0.7">3</tspan><tspan dy="-0.7">S</tspan></tspan></text>
<path d="M451.89 103.78L447.90 107.12L443.02 105.34L442.11 100.22L446.10 96.88L450.98 98.66ZM450.29 103.20L447.61 105.45M444.32 104.25L443.71 100.80M446.39 98.55L449.68 99.75M451.89 103.78L456.12 105.32M442.11 100.22L437.88 98.68M447.90 107.12L448.51 110.57" stroke="#98a4f2" stroke-width="0.85" fill="none"/>
<path d="M456.12 105.32l2.87 4.10M437.88 98.68l-2.87 -4.10" stroke="#98a4f2" stroke-width="0.7" stroke-dasharray="1 0.8" fill="none"/>
<text x="435.5" y="110" font-size="4.4" fill="#3a58ee" stroke="#3a58ee" stroke-width="0.22">N</text>
<text x="454" y="112" font-size="4.4"><tspan fill="#3a58ee" stroke="#3a58ee" stroke-width="0.22">SO<tspan font-size="3" dy="0.7">3</tspan></tspan><tspan fill="#2ccf5a" dy="-0.7" stroke="#2ccf5a" stroke-width="0.22">Li</tspan></text>
<path d="M419.20 97.00L416.60 101.50L411.40 101.50L408.80 97.00L411.40 92.50L416.60 92.50ZM417.50 97.00L415.75 100.03M412.25 100.03L410.50 97.00M412.25 93.97L415.75 93.97M419.20 97.00L423.70 97.00M408.80 97.00L404.30 97.00M416.60 101.50L418.35 104.53" stroke="#98a4f2" stroke-width="0.85" fill="none"/>
<path d="M423.70 97.00l4.10 2.87M404.30 97.00l-4.10 -2.87" stroke="#98a4f2" stroke-width="0.7" stroke-dasharray="1 0.8" fill="none"/>
<text x="395" y="94.5" font-size="4.4" fill="#3a58ee" stroke="#3a58ee" stroke-width="0.22">HN</text>
<text x="413" y="104.5" font-size="4.4" fill="#3a58ee" stroke="#3a58ee" stroke-width="0.22">NH</text>
<text x="413.5" y="94.5" font-size="4.4"><tspan fill="#3a58ee" stroke="#3a58ee" stroke-width="0.22">SO<tspan font-size="3" dy="0.7">3</tspan></tspan><tspan fill="#2ccf5a" dy="-0.7" stroke="#2ccf5a" stroke-width="0.22">Li</tspan></text>
<path d="M396.90 61.12L392.02 59.34L391.11 54.22L395.10 50.88L399.98 52.66L400.89 57.78ZM396.61 59.45L393.32 58.25M392.71 54.80L395.39 52.55M398.68 53.75L399.29 57.20M396.90 61.12L397.68 65.55M395.10 50.88L394.32 46.45M392.02 59.34L389.34 61.59" stroke="#98a4f2" stroke-width="0.85" fill="none"/>
<path d="M397.68 65.55l-2.11 4.53M394.32 46.45l2.11 -4.53" stroke="#98a4f2" stroke-width="0.7" stroke-dasharray="1 0.8" fill="none"/>
<text x="393" y="70" font-size="4.4" fill="#3a58ee" stroke="#3a58ee" stroke-width="0.22">NH</text>
<text x="375" y="66" font-size="4.4"><tspan fill="#2ccf5a" stroke="#2ccf5a" stroke-width="0.22">Li</tspan><tspan fill="#3a58ee" stroke="#3a58ee" stroke-width="0.22">O<tspan font-size="3" dy="0.7">3</tspan><tspan dy="-0.7">S</tspan></tspan></text>
</g>
<circle cx="434.5" cy="39.8" r="2.2" fill="url(#gdot)"/>
<circle cx="469.5" cy="31.3" r="2.2" fill="url(#gdot)"/>
<circle cx="379.2" cy="70.2" r="2.2" fill="url(#gdot)"/>
<circle cx="425.3" cy="81.9" r="2.2" fill="url(#gdot)"/>
<circle cx="457" cy="77.6" r="2.2" fill="url(#gdot)"/>
<circle cx="465.5" cy="115.8" r="2.2" fill="url(#gdot)"/>
<circle cx="382" cy="12.2" r="2.6" fill="url(#gdot)"/>
<text x="389.4" y="16.2" font-size="8.9" fill="#111" stroke="#111" stroke-width="0.22">Li ion</text>
<text x="387" y="49.2" font-size="9.1" fill="#111" stroke="#111" stroke-width="0.22">Li ion conducting COF</text>
<path d="M436.4 59.3L441.6 63.5H439.7L441.4 78H431.6L433.3 63.5H431.3Z" fill="#1fdca0"/>
<path d="M61.52 156.5V268.2M83.64 156.5V268.2M105.76 156.5V268.2M127.87 156.5V268.2M149.99 156.5V268.2" stroke="#3a3a3a" stroke-width="1" stroke-dasharray="4 1.8 1 2.4" stroke-dashoffset="1.5"/>
<path d="M38.30 268.2V265.2M49.36 268.2V266.2M60.42 268.2V265.2M71.47 268.2V266.2M82.53 268.2V265.2M93.59 268.2V266.2M104.65 268.2V265.2M115.71 268.2V266.2M126.77 268.2V265.2M137.82 268.2V266.2M148.88 268.2V265.2M159.94 268.2V266.2M171.00 268.2V265.2M38.3 268.20H41.3M38.3 261.22H40.3M38.3 254.24H41.3M38.3 247.26H40.3M38.3 240.27H41.3M38.3 233.29H40.3M38.3 226.31H41.3M38.3 219.33H40.3M38.3 212.35H41.3M38.3 205.37H40.3M38.3 198.39H41.3M38.3 191.41H40.3M38.3 184.43H41.3M38.3 177.44H40.3M38.3 170.46H41.3M38.3 163.48H40.3M38.3 156.50H41.3" stroke="#111" stroke-width="1.25"/>
<rect x="38.3" y="156.5" width="132.7" height="111.69999999999999" fill="none" stroke="#111" stroke-width="1.35"/>
<g font-size="6.7" fill="#111" text-anchor="middle" stroke="#111" stroke-width="0.22"><text x="27.2" y="271.10">0</text><text x="26.7" y="257.40">500</text><text x="25.75" y="243.20">1000</text><text x="26.0" y="229.00">1500</text><text x="26.85" y="215.40">2000</text><text x="26.85" y="201.80">2500</text><text x="27.4" y="187.70">3000</text><text x="27.85" y="174.40">3500</text><text x="28.15" y="160.80">4000</text></g>
<g font-size="6.8" fill="#111" text-anchor="middle" stroke="#111" stroke-width="0.22"><text x="37.5" y="279.0">0</text><text x="60.0" y="279.0">10</text><text x="83.0" y="279.0">20</text><text x="105.2" y="279.0">30</text><text x="126.4" y="279.0">40</text><text x="148.3" y="279.0">50</text><text x="170.1" y="279.0">60</text></g>
<text x="77" y="291.3" font-size="7.9" fill="#111" stroke="#111" stroke-width="0.22">Cycle Number</text>
<text transform="translate(11.2 213.9) rotate(-90)" text-anchor="middle" font-size="9.05" fill="#111" stroke="#111" stroke-width="0.22">Specific Capacity (mAh·g<tspan font-size="6" dy="-3.3">-1</tspan><tspan dy="3.3">)</tspan></text>
<g fill="url(#mk_b)"><circle cx="40.51" cy="187.78" r="1.35"/><circle cx="42.72" cy="188.61" r="1.35"/><circle cx="44.93" cy="189.03" r="1.35"/><circle cx="47.15" cy="189.45" r="1.35"/><circle cx="49.36" cy="189.87" r="1.35"/><circle cx="51.57" cy="190.15" r="1.35"/><circle cx="53.78" cy="190.43" r="1.35"/><circle cx="55.99" cy="190.71" r="1.35"/><circle cx="58.20" cy="190.85" r="1.35"/><circle cx="60.42" cy="190.99" r="1.35"/><circle cx="62.63" cy="207.49" r="1.35"/><circle cx="64.84" cy="209.08" r="1.35"/><circle cx="67.05" cy="208.50" r="1.35"/><circle cx="69.26" cy="207.49" r="1.35"/><circle cx="71.47" cy="206.49" r="1.35"/><circle cx="73.69" cy="205.90" r="1.35"/><circle cx="75.90" cy="207.32" r="1.35"/><circle cx="78.11" cy="205.90" r="1.35"/><circle cx="80.32" cy="205.51" r="1.35"/><circle cx="82.53" cy="205.23" r="1.35"/><circle cx="84.75" cy="222.68" r="1.35"/><circle cx="86.96" cy="221.84" r="1.35"/><circle cx="89.17" cy="221.29" r="1.35"/><circle cx="91.38" cy="220.73" r="1.35"/><circle cx="93.59" cy="220.45" r="1.35"/><circle cx="95.80" cy="220.31" r="1.35"/><circle cx="98.01" cy="220.17" r="1.35"/><circle cx="100.23" cy="220.17" r="1.35"/><circle cx="102.44" cy="220.03" r="1.35"/><circle cx="104.65" cy="220.17" r="1.35"/><circle cx="106.86" cy="235.53" r="1.35"/><circle cx="109.07" cy="236.09" r="1.35"/><circle cx="111.28" cy="236.51" r="1.35"/><circle cx="113.50" cy="236.64" r="1.35"/><circle cx="115.71" cy="236.51" r="1.35"/><circle cx="117.92" cy="236.37" r="1.35"/><circle cx="120.13" cy="236.23" r="1.35"/><circle cx="122.34" cy="236.09" r="1.35"/><circle cx="124.55" cy="235.95" r="1.35"/><circle cx="126.77" cy="235.81" r="1.35"/><circle cx="128.98" cy="257.03" r="1.35"/><circle cx="131.19" cy="258.71" r="1.35"/><circle cx="133.40" cy="260.10" r="1.35"/><circle cx="135.61" cy="261.36" r="1.35"/><circle cx="137.82" cy="262.48" r="1.35"/><circle cx="140.04" cy="263.31" r="1.35"/><circle cx="142.25" cy="264.01" r="1.35"/><circle cx="144.46" cy="264.71" r="1.35"/><circle cx="146.67" cy="265.27" r="1.35"/><circle cx="148.88" cy="265.83" r="1.35"/><circle cx="151.09" cy="202.86" r="1.35"/><circle cx="153.31" cy="203.41" r="1.35"/><circle cx="155.52" cy="203.97" r="1.35"/><circle cx="157.73" cy="204.53" r="1.35"/><circle cx="159.94" cy="205.09" r="1.35"/></g>
<g fill="url(#mk_r)"><circle cx="40.51" cy="190.71" r="1.35"/><circle cx="42.72" cy="190.99" r="1.35"/><circle cx="44.93" cy="191.27" r="1.35"/><circle cx="47.15" cy="191.55" r="1.35"/><circle cx="49.36" cy="191.69" r="1.35"/><circle cx="51.57" cy="191.96" r="1.35"/><circle cx="53.78" cy="192.10" r="1.35"/><circle cx="55.99" cy="192.38" r="1.35"/><circle cx="58.20" cy="192.52" r="1.35"/><circle cx="60.42" cy="192.66" r="1.35"/><circle cx="62.63" cy="199.50" r="1.35"/><circle cx="64.84" cy="199.78" r="1.35"/><circle cx="67.05" cy="199.92" r="1.35"/><circle cx="69.26" cy="200.20" r="1.35"/><circle cx="71.47" cy="200.48" r="1.35"/><circle cx="73.69" cy="200.62" r="1.35"/><circle cx="75.90" cy="200.90" r="1.35"/><circle cx="78.11" cy="201.04" r="1.35"/><circle cx="80.32" cy="201.32" r="1.35"/><circle cx="82.53" cy="201.46" r="1.35"/><circle cx="84.75" cy="210.67" r="1.35"/><circle cx="86.96" cy="210.40" r="1.35"/><circle cx="89.17" cy="210.67" r="1.35"/><circle cx="91.38" cy="210.67" r="1.35"/><circle cx="93.59" cy="210.81" r="1.35"/><circle cx="95.80" cy="210.95" r="1.35"/><circle cx="98.01" cy="210.95" r="1.35"/><circle cx="100.23" cy="211.09" r="1.35"/><circle cx="102.44" cy="211.23" r="1.35"/><circle cx="104.65" cy="211.37" r="1.35"/><circle cx="106.86" cy="225.75" r="1.35"/><circle cx="109.07" cy="226.03" r="1.35"/><circle cx="111.28" cy="225.89" r="1.35"/><circle cx="113.50" cy="226.03" r="1.35"/><circle cx="115.71" cy="226.17" r="1.35"/><circle cx="117.92" cy="226.03" r="1.35"/><circle cx="120.13" cy="226.17" r="1.35"/><circle cx="122.34" cy="226.03" r="1.35"/><circle cx="124.55" cy="226.17" r="1.35"/><circle cx="126.77" cy="226.31" r="1.35"/><circle cx="128.98" cy="240.55" r="1.35"/><circle cx="131.19" cy="241.53" r="1.35"/><circle cx="133.40" cy="241.67" r="1.35"/><circle cx="135.61" cy="241.67" r="1.35"/><circle cx="137.82" cy="241.67" r="1.35"/><circle cx="140.04" cy="241.73" r="1.35"/><circle cx="142.25" cy="241.67" r="1.35"/><circle cx="144.46" cy="241.73" r="1.35"/><circle cx="146.67" cy="241.67" r="1.35"/><circle cx="148.88" cy="241.73" r="1.35"/><circle cx="151.09" cy="190.01" r="1.35"/><circle cx="153.31" cy="190.99" r="1.35"/><circle cx="155.52" cy="191.27" r="1.35"/><circle cx="157.73" cy="191.41" r="1.35"/><circle cx="159.94" cy="191.55" r="1.35"/></g>
<g font-size="5.8" fill="#111" stroke="#111" stroke-width="0.22"><text x="41.3" y="186.0">500 mA·g<tspan font-size="3.9" dy="-2.4">-1</tspan></text><text x="65.3" y="197.6">1000 mA·g<tspan font-size="3.9" dy="-2.4">-1</tspan></text><text x="88.3" y="208.4">2000 mA·g<tspan font-size="3.9" dy="-2.4">-1</tspan></text><text x="107.9" y="223.9">3000 mA·g<tspan font-size="3.9" dy="-2.4">-1</tspan></text><text x="130.9" y="238.9">5000 mA·g<tspan font-size="3.9" dy="-2.4">-1</tspan></text><text x="136.3" y="185.4">500 mA·g<tspan font-size="3.9" dy="-2.4">-1</tspan></text></g>
<circle cx="131.7" cy="163.2" r="3" fill="url(#rdot)"/><circle cx="131.7" cy="174.6" r="3" fill="url(#bdot)"/>
<text x="135.4" y="166.2" font-size="8.1" fill="#f01c1c" stroke="#f01c1c" stroke-width="0.22">Si@COF</text>
<text x="135.4" y="177.6" font-size="8.1" fill="#1832f4" stroke="#1832f4" stroke-width="0.22">Si</text>
<path d="M212.40 278.4V274.4M227.83 278.4V276.4M243.26 278.4V274.4M258.69 278.4V276.4M274.12 278.4V274.4M289.55 278.4V276.4M304.98 278.4V274.4M320.41 278.4V276.4M335.84 278.4V274.4M351.27 278.4V276.4M366.70 278.4V274.4M382.13 278.4V276.4M397.56 278.4V274.4M412.99 278.4V276.4M428.42 278.4V274.4M443.85 278.4V276.4M459.28 278.4V274.4M474.71 278.4V276.4M490.14 278.4V274.4M505.57 278.4V276.4M521.00 278.4V274.4M212.4 278.40H216.4M212.4 269.70H214.4M212.4 261.00H216.4M212.4 252.30H214.4M212.4 243.60H216.4M212.4 234.90H214.4M212.4 226.20H216.4M212.4 217.50H214.4M212.4 208.80H216.4M212.4 200.10H214.4M212.4 191.40H216.4M212.4 182.70H214.4M212.4 174.00H216.4M212.4 165.30H214.4M212.4 156.60H216.4" stroke="#111" stroke-width="1.25"/>
<path d="M521.0 278.40H517.0M521.0 267.46H519.0M521.0 256.52H517.0M521.0 245.58H519.0M521.0 234.64H517.0M521.0 223.70H519.0M521.0 212.76H517.0M521.0 201.82H519.0M521.0 190.88H517.0M521.0 179.94H519.0M521.0 169.00H517.0" stroke="#1832f4" stroke-width="1.25"/>
<path d="M521.0 156.6H212.4V278.4H521.0" fill="none" stroke="#111" stroke-width="1.4"/>
<path d="M521.0 156.0V279.0" stroke="#1832f4" stroke-width="1.8"/>
<g font-size="7.3" fill="#111" text-anchor="middle" stroke="#111" stroke-width="0.22"><text x="199.9" y="281.20">0</text><text x="199.9" y="264.50">500</text><text x="199.9" y="247.60">1000</text><text x="199.9" y="229.50">1500</text><text x="199.9" y="212.00">2000</text><text x="199.9" y="194.10">2500</text><text x="199.9" y="178.00">3000</text><text x="199.9" y="161.40">3500</text></g>
<g font-size="7" fill="#111" text-anchor="middle" stroke="#111" stroke-width="0.22"><text x="211.30" y="290.0">0</text><text x="242.16" y="290.0">100</text><text x="273.02" y="290.0">200</text><text x="303.88" y="290.0">300</text><text x="334.74" y="290.0">400</text><text x="365.60" y="290.0">500</text><text x="396.46" y="290.0">600</text><text x="427.32" y="290.0">700</text><text x="458.18" y="290.0">800</text><text x="489.04" y="290.0">900</text><text x="519.90" y="290.0">1000</text></g>
<g font-size="7.1" fill="#1832f4" text-anchor="middle" stroke="#1832f4" stroke-width="0.22"><text x="529.8" y="281.00">0</text><text x="529.8" y="259.12">20</text><text x="529.8" y="237.24">40</text><text x="529.8" y="215.36">60</text><text x="529.8" y="193.48">80</text><text x="529.8" y="171.60">100</text></g>
<text transform="translate(185.0 215.2) rotate(-90)" text-anchor="middle" font-size="8.7" fill="#111" stroke="#111" stroke-width="0.22">Delithiation Capacity (mAh·g<tspan font-size="6" dy="-3.3">-1</tspan><tspan dy="3.3">)</tspan></text>
<text transform="translate(538.8 214.4) rotate(90)" text-anchor="middle" font-size="9" fill="#1832f4" stroke="#1832f4" stroke-width="0.22">CE (%)</text>
<path d="M212.8 169.7L216 170.2L221 170.4L230 169.8L245 168.9L265 168.3L300 167.9L350 167.7L400 167.6L460 167.6L520 167.6" fill="none" stroke="#1832f4" stroke-width="4.0" stroke-linejoin="round"/>
<g fill="#1832f4"><circle cx="213.0" cy="169.7" r="2.15"/><circle cx="214.6" cy="169.2" r="2.15"/><circle cx="216.1" cy="170.0" r="2.15"/><circle cx="217.7" cy="170.3" r="2.15"/><circle cx="219.2" cy="171.2" r="2.15"/><circle cx="220.8" cy="171.1" r="2.15"/><circle cx="222.3" cy="170.1" r="2.15"/><circle cx="223.9" cy="170.1" r="2.15"/><circle cx="225.4" cy="170.3" r="2.15"/><circle cx="227.0" cy="170.1" r="2.15"/><circle cx="228.5" cy="169.3" r="2.15"/><circle cx="230.1" cy="169.8" r="2.15"/><circle cx="231.6" cy="169.8" r="2.15"/><circle cx="233.2" cy="169.2" r="2.15"/><circle cx="234.7" cy="169.4" r="2.15"/><circle cx="236.3" cy="169.3" r="2.15"/><circle cx="237.8" cy="169.4" r="2.15"/><circle cx="239.4" cy="169.5" r="2.15"/><circle cx="240.9" cy="168.8" r="2.15"/><circle cx="242.5" cy="168.8" r="2.15"/><circle cx="244.0" cy="169.3" r="2.15"/><circle cx="245.6" cy="169.2" r="2.15"/><circle cx="247.1" cy="169.3" r="2.15"/><circle cx="248.7" cy="168.8" r="2.15"/><circle cx="250.2" cy="169.0" r="2.15"/><circle cx="251.8" cy="168.1" r="2.15"/><circle cx="253.3" cy="168.8" r="2.15"/><circle cx="254.9" cy="168.4" r="2.15"/><circle cx="256.4" cy="168.2" r="2.15"/><circle cx="258.0" cy="168.2" r="2.15"/><circle cx="259.5" cy="168.7" r="2.15"/><circle cx="261.1" cy="168.8" r="2.15"/><circle cx="262.6" cy="168.2" r="2.15"/><circle cx="264.2" cy="168.2" r="2.15"/><circle cx="265.7" cy="168.6" r="2.15"/><circle cx="267.3" cy="168.1" r="2.15"/><circle cx="268.8" cy="168.3" r="2.15"/><circle cx="270.4" cy="168.4" r="2.15"/><circle cx="271.9" cy="168.5" r="2.15"/><circle cx="273.5" cy="168.1" r="2.15"/><circle cx="275.0" cy="167.5" r="2.15"/><circle cx="276.6" cy="168.1" r="2.15"/><circle cx="278.1" cy="168.3" r="2.15"/><circle cx="279.7" cy="168.0" r="2.15"/><circle cx="281.2" cy="168.0" r="2.15"/><circle cx="282.8" cy="167.9" r="2.15"/><circle cx="284.3" cy="168.2" r="2.15"/><circle cx="285.9" cy="168.1" r="2.15"/><circle cx="287.4" cy="168.1" r="2.15"/><circle cx="289.0" cy="168.0" r="2.15"/><circle cx="290.5" cy="168.3" r="2.15"/><circle cx="292.1" cy="168.1" r="2.15"/><circle cx="293.6" cy="168.0" r="2.15"/><circle cx="295.2" cy="167.7" r="2.15"/><circle cx="296.7" cy="167.8" r="2.15"/><circle cx="298.3" cy="167.9" r="2.15"/><circle cx="299.8" cy="168.3" r="2.15"/><circle cx="301.4" cy="168.0" r="2.15"/><circle cx="302.9" cy="167.8" r="2.15"/><circle cx="304.5" cy="168.1" r="2.15"/><circle cx="306.0" cy="168.0" r="2.15"/><circle cx="307.6" cy="167.8" r="2.15"/><circle cx="309.1" cy="168.0" r="2.15"/><circle cx="310.7" cy="167.6" r="2.15"/><circle cx="312.2" cy="167.9" r="2.15"/><circle cx="313.8" cy="168.3" r="2.15"/><circle cx="315.3" cy="168.1" r="2.15"/><circle cx="316.9" cy="168.0" r="2.15"/><circle cx="318.4" cy="168.0" r="2.15"/><circle cx="320.0" cy="168.0" r="2.15"/><circle cx="321.5" cy="167.5" r="2.15"/><circle cx="323.1" cy="167.7" r="2.15"/><circle cx="324.6" cy="167.6" r="2.15"/><circle cx="326.2" cy="167.9" r="2.15"/><circle cx="327.7" cy="168.0" r="2.15"/><circle cx="329.3" cy="168.3" r="2.15"/><circle cx="330.8" cy="167.7" r="2.15"/><circle cx="332.4" cy="167.5" r="2.15"/><circle cx="333.9" cy="167.8" r="2.15"/><circle cx="335.5" cy="167.8" r="2.15"/><circle cx="337.0" cy="167.8" r="2.15"/><circle cx="338.6" cy="167.8" r="2.15"/><circle cx="340.1" cy="167.9" r="2.15"/><circle cx="341.7" cy="167.6" r="2.15"/><circle cx="343.2" cy="167.8" r="2.15"/><circle cx="344.8" cy="168.0" r="2.15"/><circle cx="346.3" cy="167.8" r="2.15"/><circle cx="347.9" cy="167.8" r="2.15"/><circle cx="349.4" cy="167.5" r="2.15"/><circle cx="351.0" cy="167.9" r="2.15"/><circle cx="352.5" cy="167.7" r="2.15"/><circle cx="354.1" cy="167.5" r="2.15"/><circle cx="355.6" cy="167.6" r="2.15"/><circle cx="357.2" cy="167.6" r="2.15"/><circle cx="358.7" cy="167.6" r="2.15"/><circle cx="360.3" cy="167.5" r="2.15"/><circle cx="361.8" cy="168.1" r="2.15"/><circle cx="363.4" cy="167.9" r="2.15"/><circle cx="364.9" cy="167.8" r="2.15"/><circle cx="366.5" cy="167.8" r="2.15"/><circle cx="368.0" cy="167.6" r="2.15"/><circle cx="369.6" cy="167.9" r="2.15"/><circle cx="371.1" cy="167.6" r="2.15"/><circle cx="372.7" cy="167.6" r="2.15"/><circle cx="374.2" cy="167.5" r="2.15"/><circle cx="375.8" cy="167.9" r="2.15"/><circle cx="377.3" cy="167.9" r="2.15"/><circle cx="378.9" cy="167.9" r="2.15"/><circle cx="380.4" cy="167.9" r="2.15"/><circle cx="382.0" cy="167.1" r="2.15"/><circle cx="383.5" cy="167.7" r="2.15"/><circle cx="385.1" cy="167.9" r="2.15"/><circle cx="386.6" cy="167.7" r="2.15"/><circle cx="388.2" cy="167.2" r="2.15"/><circle cx="389.7" cy="167.7" r="2.15"/><circle cx="391.3" cy="167.8" r="2.15"/><circle cx="392.8" cy="167.5" r="2.15"/><circle cx="394.4" cy="167.3" r="2.15"/><circle cx="395.9" cy="167.5" r="2.15"/><circle cx="397.5" cy="166.9" r="2.15"/><circle cx="399.0" cy="167.7" r="2.15"/><circle cx="400.6" cy="167.4" r="2.15"/><circle cx="402.1" cy="167.5" r="2.15"/><circle cx="403.7" cy="167.5" r="2.15"/><circle cx="405.2" cy="167.6" r="2.15"/><circle cx="406.8" cy="168.0" r="2.15"/><circle cx="408.3" cy="167.4" r="2.15"/><circle cx="409.9" cy="167.5" r="2.15"/><circle cx="411.4" cy="167.1" r="2.15"/><circle cx="413.0" cy="167.4" r="2.15"/><circle cx="414.5" cy="167.1" r="2.15"/><circle cx="416.1" cy="167.8" r="2.15"/><circle cx="417.6" cy="167.6" r="2.15"/><circle cx="419.2" cy="167.4" r="2.15"/><circle cx="420.7" cy="167.8" r="2.15"/><circle cx="422.3" cy="167.3" r="2.15"/><circle cx="423.8" cy="167.5" r="2.15"/><circle cx="425.4" cy="167.4" r="2.15"/><circle cx="426.9" cy="167.4" r="2.15"/><circle cx="428.5" cy="167.5" r="2.15"/><circle cx="430.0" cy="167.4" r="2.15"/><circle cx="431.6" cy="167.5" r="2.15"/><circle cx="433.1" cy="167.3" r="2.15"/><circle cx="434.7" cy="167.2" r="2.15"/><circle cx="436.2" cy="167.9" r="2.15"/><circle cx="437.8" cy="167.7" r="2.15"/><circle cx="439.3" cy="167.5" r="2.15"/><circle cx="440.9" cy="167.6" r="2.15"/><circle cx="442.4" cy="167.3" r="2.15"/><circle cx="444.0" cy="167.7" r="2.15"/><circle cx="445.5" cy="167.2" r="2.15"/><circle cx="447.1" cy="167.7" r="2.15"/><circle cx="448.6" cy="167.7" r="2.15"/><circle cx="450.2" cy="167.6" r="2.15"/><circle cx="451.7" cy="167.8" r="2.15"/><circle cx="453.3" cy="167.6" r="2.15"/><circle cx="454.8" cy="168.0" r="2.15"/><circle cx="456.4" cy="167.7" r="2.15"/><circle cx="457.9" cy="167.2" r="2.15"/><circle cx="459.5" cy="167.3" r="2.15"/><circle cx="461.0" cy="168.0" r="2.15"/><circle cx="462.6" cy="167.5" r="2.15"/><circle cx="464.1" cy="167.7" r="2.15"/><circle cx="465.7" cy="167.5" r="2.15"/><circle cx="467.2" cy="168.0" r="2.15"/><circle cx="468.8" cy="167.9" r="2.15"/><circle cx="470.3" cy="167.8" r="2.15"/><circle cx="471.9" cy="167.5" r="2.15"/><circle cx="473.4" cy="167.5" r="2.15"/><circle cx="475.0" cy="167.9" r="2.15"/><circle cx="476.5" cy="167.5" r="2.15"/><circle cx="478.1" cy="167.1" r="2.15"/><circle cx="479.6" cy="168.0" r="2.15"/><circle cx="481.2" cy="167.8" r="2.15"/><circle cx="482.7" cy="167.3" r="2.15"/><circle cx="484.3" cy="167.7" r="2.15"/><circle cx="485.8" cy="167.7" r="2.15"/><circle cx="487.4" cy="167.7" r="2.15"/><circle cx="488.9" cy="168.0" r="2.15"/><circle cx="490.5" cy="167.9" r="2.15"/><circle cx="492.0" cy="167.4" r="2.15"/><circle cx="493.6" cy="167.6" r="2.15"/><circle cx="495.1" cy="167.8" r="2.15"/><circle cx="496.7" cy="167.8" r="2.15"/><circle cx="498.2" cy="167.5" r="2.15"/><circle cx="499.8" cy="167.9" r="2.15"/><circle cx="501.3" cy="167.4" r="2.15"/><circle cx="502.9" cy="167.8" r="2.15"/><circle cx="504.4" cy="167.2" r="2.15"/><circle cx="506.0" cy="167.7" r="2.15"/><circle cx="507.5" cy="168.1" r="2.15"/><circle cx="509.1" cy="168.0" r="2.15"/><circle cx="510.6" cy="167.4" r="2.15"/><circle cx="512.2" cy="166.9" r="2.15"/><circle cx="513.7" cy="167.7" r="2.15"/><circle cx="515.3" cy="167.9" r="2.15"/><circle cx="516.8" cy="167.6" r="2.15"/><circle cx="518.4" cy="167.7" r="2.15"/><circle cx="519.9" cy="167.3" r="2.15"/></g>
<path d="M213 211.8L217 210L221 209.3L225 211.2L230 213.6L240 215.6L250 217.3L265 219L280 220.7L295 222.8L310 225.1L337 228L365 230.7L392 233L420 235.3L445 236.6L470 237.8L495 238.9L520 239.8" fill="none" stroke="#f01c1c" stroke-width="4.6" stroke-linejoin="round"/>
<g fill="#f01c1c" stroke="#d01010" stroke-width="0.5"><circle cx="213.0" cy="210.0" r="2.45"/><circle cx="214.6" cy="210.3" r="2.45"/><circle cx="216.1" cy="210.9" r="2.45"/><circle cx="217.7" cy="209.6" r="2.45"/><circle cx="219.2" cy="208.8" r="2.45"/><circle cx="220.8" cy="207.2" r="2.45"/><circle cx="222.3" cy="209.0" r="2.45"/><circle cx="223.9" cy="209.3" r="2.45"/><circle cx="225.4" cy="210.1" r="2.45"/><circle cx="227.0" cy="212.3" r="2.45"/><circle cx="228.5" cy="212.1" r="2.45"/><circle cx="230.1" cy="213.3" r="2.45"/><circle cx="231.6" cy="213.5" r="2.45"/><circle cx="233.2" cy="213.5" r="2.45"/><circle cx="234.7" cy="214.3" r="2.45"/><circle cx="236.3" cy="214.7" r="2.45"/><circle cx="237.8" cy="214.9" r="2.45"/><circle cx="239.4" cy="215.0" r="2.45"/><circle cx="240.9" cy="215.4" r="2.45"/><circle cx="242.5" cy="215.7" r="2.45"/><circle cx="244.0" cy="216.7" r="2.45"/><circle cx="245.6" cy="216.8" r="2.45"/><circle cx="247.1" cy="217.4" r="2.45"/><circle cx="248.7" cy="217.5" r="2.45"/><circle cx="250.2" cy="218.1" r="2.45"/><circle cx="251.8" cy="217.5" r="2.45"/><circle cx="253.3" cy="217.8" r="2.45"/><circle cx="254.9" cy="217.9" r="2.45"/><circle cx="256.4" cy="217.9" r="2.45"/><circle cx="258.0" cy="218.5" r="2.45"/><circle cx="259.5" cy="218.6" r="2.45"/><circle cx="261.1" cy="218.8" r="2.45"/><circle cx="262.6" cy="218.9" r="2.45"/><circle cx="264.2" cy="219.4" r="2.45"/><circle cx="265.7" cy="218.5" r="2.45"/><circle cx="267.3" cy="219.5" r="2.45"/><circle cx="268.8" cy="219.4" r="2.45"/><circle cx="270.4" cy="219.4" r="2.45"/><circle cx="271.9" cy="219.7" r="2.45"/><circle cx="273.5" cy="220.2" r="2.45"/><circle cx="275.0" cy="220.5" r="2.45"/><circle cx="276.6" cy="220.2" r="2.45"/><circle cx="278.1" cy="220.8" r="2.45"/><circle cx="279.7" cy="220.9" r="2.45"/><circle cx="281.2" cy="221.4" r="2.45"/><circle cx="282.8" cy="221.6" r="2.45"/><circle cx="284.3" cy="221.7" r="2.45"/><circle cx="285.9" cy="221.4" r="2.45"/><circle cx="287.4" cy="221.3" r="2.45"/><circle cx="289.0" cy="222.6" r="2.45"/><circle cx="290.5" cy="221.8" r="2.45"/><circle cx="292.1" cy="222.8" r="2.45"/><circle cx="293.6" cy="222.7" r="2.45"/><circle cx="295.2" cy="223.6" r="2.45"/><circle cx="296.7" cy="223.1" r="2.45"/><circle cx="298.3" cy="223.2" r="2.45"/><circle cx="299.8" cy="222.7" r="2.45"/><circle cx="301.4" cy="224.1" r="2.45"/><circle cx="302.9" cy="224.0" r="2.45"/><circle cx="304.5" cy="224.0" r="2.45"/><circle cx="306.0" cy="224.4" r="2.45"/><circle cx="307.6" cy="225.3" r="2.45"/><circle cx="309.1" cy="225.2" r="2.45"/><circle cx="310.7" cy="225.6" r="2.45"/><circle cx="312.2" cy="225.3" r="2.45"/><circle cx="313.8" cy="225.7" r="2.45"/><circle cx="315.3" cy="226.1" r="2.45"/><circle cx="316.9" cy="225.8" r="2.45"/><circle cx="318.4" cy="226.6" r="2.45"/><circle cx="320.0" cy="226.1" r="2.45"/><circle cx="321.5" cy="227.2" r="2.45"/><circle cx="323.1" cy="226.3" r="2.45"/><circle cx="324.6" cy="226.5" r="2.45"/><circle cx="326.2" cy="226.9" r="2.45"/><circle cx="327.7" cy="226.9" r="2.45"/><circle cx="329.3" cy="227.2" r="2.45"/><circle cx="330.8" cy="227.4" r="2.45"/><circle cx="332.4" cy="228.1" r="2.45"/><circle cx="333.9" cy="227.5" r="2.45"/><circle cx="335.5" cy="228.4" r="2.45"/><circle cx="337.0" cy="228.4" r="2.45"/><circle cx="338.6" cy="228.3" r="2.45"/><circle cx="340.1" cy="228.3" r="2.45"/><circle cx="341.7" cy="229.3" r="2.45"/><circle cx="343.2" cy="227.6" r="2.45"/><circle cx="344.8" cy="228.6" r="2.45"/><circle cx="346.3" cy="228.9" r="2.45"/><circle cx="347.9" cy="229.3" r="2.45"/><circle cx="349.4" cy="229.3" r="2.45"/><circle cx="351.0" cy="229.8" r="2.45"/><circle cx="352.5" cy="229.8" r="2.45"/><circle cx="354.1" cy="230.2" r="2.45"/><circle cx="355.6" cy="229.6" r="2.45"/><circle cx="357.2" cy="230.2" r="2.45"/><circle cx="358.7" cy="230.9" r="2.45"/><circle cx="360.3" cy="230.0" r="2.45"/><circle cx="361.8" cy="230.5" r="2.45"/><circle cx="363.4" cy="230.0" r="2.45"/><circle cx="364.9" cy="230.9" r="2.45"/><circle cx="366.5" cy="230.5" r="2.45"/><circle cx="368.0" cy="231.3" r="2.45"/><circle cx="369.6" cy="230.6" r="2.45"/><circle cx="371.1" cy="231.3" r="2.45"/><circle cx="372.7" cy="231.0" r="2.45"/><circle cx="374.2" cy="231.5" r="2.45"/><circle cx="375.8" cy="231.9" r="2.45"/><circle cx="377.3" cy="232.8" r="2.45"/><circle cx="378.9" cy="232.1" r="2.45"/><circle cx="380.4" cy="232.3" r="2.45"/><circle cx="382.0" cy="233.0" r="2.45"/><circle cx="383.5" cy="232.8" r="2.45"/><circle cx="385.1" cy="232.0" r="2.45"/><circle cx="386.6" cy="232.8" r="2.45"/><circle cx="388.2" cy="232.8" r="2.45"/><circle cx="389.7" cy="233.2" r="2.45"/><circle cx="391.3" cy="233.2" r="2.45"/><circle cx="392.8" cy="232.3" r="2.45"/><circle cx="394.4" cy="233.0" r="2.45"/><circle cx="395.9" cy="234.2" r="2.45"/><circle cx="397.5" cy="233.9" r="2.45"/><circle cx="399.0" cy="233.2" r="2.45"/><circle cx="400.6" cy="233.5" r="2.45"/><circle cx="402.1" cy="233.7" r="2.45"/><circle cx="403.7" cy="233.4" r="2.45"/><circle cx="405.2" cy="232.6" r="2.45"/><circle cx="406.8" cy="234.4" r="2.45"/><circle cx="408.3" cy="233.9" r="2.45"/><circle cx="409.9" cy="234.1" r="2.45"/><circle cx="411.4" cy="234.2" r="2.45"/><circle cx="413.0" cy="234.5" r="2.45"/><circle cx="414.5" cy="234.6" r="2.45"/><circle cx="416.1" cy="235.6" r="2.45"/><circle cx="417.6" cy="234.9" r="2.45"/><circle cx="419.2" cy="235.5" r="2.45"/><circle cx="420.7" cy="235.3" r="2.45"/><circle cx="422.3" cy="236.0" r="2.45"/><circle cx="423.8" cy="235.5" r="2.45"/><circle cx="425.4" cy="234.7" r="2.45"/><circle cx="426.9" cy="236.5" r="2.45"/><circle cx="428.5" cy="236.5" r="2.45"/><circle cx="430.0" cy="236.1" r="2.45"/><circle cx="431.6" cy="235.2" r="2.45"/><circle cx="433.1" cy="236.6" r="2.45"/><circle cx="434.7" cy="236.2" r="2.45"/><circle cx="436.2" cy="235.7" r="2.45"/><circle cx="437.8" cy="235.9" r="2.45"/><circle cx="439.3" cy="236.8" r="2.45"/><circle cx="440.9" cy="236.1" r="2.45"/><circle cx="442.4" cy="236.4" r="2.45"/><circle cx="444.0" cy="236.2" r="2.45"/><circle cx="445.5" cy="236.8" r="2.45"/><circle cx="447.1" cy="236.3" r="2.45"/><circle cx="448.6" cy="237.0" r="2.45"/><circle cx="450.2" cy="236.7" r="2.45"/><circle cx="451.7" cy="237.8" r="2.45"/><circle cx="453.3" cy="236.8" r="2.45"/><circle cx="454.8" cy="237.1" r="2.45"/><circle cx="456.4" cy="237.6" r="2.45"/><circle cx="457.9" cy="237.6" r="2.45"/><circle cx="459.5" cy="236.6" r="2.45"/><circle cx="461.0" cy="237.4" r="2.45"/><circle cx="462.6" cy="237.6" r="2.45"/><circle cx="464.1" cy="237.8" r="2.45"/><circle cx="465.7" cy="237.5" r="2.45"/><circle cx="467.2" cy="238.3" r="2.45"/><circle cx="468.8" cy="238.4" r="2.45"/><circle cx="470.3" cy="237.6" r="2.45"/><circle cx="471.9" cy="237.4" r="2.45"/><circle cx="473.4" cy="237.9" r="2.45"/><circle cx="475.0" cy="238.3" r="2.45"/><circle cx="476.5" cy="238.6" r="2.45"/><circle cx="478.1" cy="237.6" r="2.45"/><circle cx="479.6" cy="237.9" r="2.45"/><circle cx="481.2" cy="237.4" r="2.45"/><circle cx="482.7" cy="237.9" r="2.45"/><circle cx="484.3" cy="239.0" r="2.45"/><circle cx="485.8" cy="239.5" r="2.45"/><circle cx="487.4" cy="238.9" r="2.45"/><circle cx="488.9" cy="238.6" r="2.45"/><circle cx="490.5" cy="238.6" r="2.45"/><circle cx="492.0" cy="239.7" r="2.45"/><circle cx="493.6" cy="239.4" r="2.45"/><circle cx="495.1" cy="239.1" r="2.45"/><circle cx="496.7" cy="238.8" r="2.45"/><circle cx="498.2" cy="238.7" r="2.45"/><circle cx="499.8" cy="239.1" r="2.45"/><circle cx="501.3" cy="240.0" r="2.45"/><circle cx="502.9" cy="239.1" r="2.45"/><circle cx="504.4" cy="239.1" r="2.45"/><circle cx="506.0" cy="239.5" r="2.45"/><circle cx="507.5" cy="239.3" r="2.45"/><circle cx="509.1" cy="239.9" r="2.45"/><circle cx="510.6" cy="239.1" r="2.45"/><circle cx="512.2" cy="239.6" r="2.45"/><circle cx="513.7" cy="239.3" r="2.45"/><circle cx="515.3" cy="240.1" r="2.45"/><circle cx="516.8" cy="239.8" r="2.45"/><circle cx="518.4" cy="239.4" r="2.45"/><circle cx="519.9" cy="239.6" r="2.45"/></g>
<circle cx="214" cy="186.5" r="2" fill="#f01c1c"/>
<text x="342.6" y="183.0" font-size="7.65" fill="#111" stroke="#111" stroke-width="0.22">Average CE ~99.6%</text>
<text x="266.7" y="210.8" font-size="7.3" fill="#111" stroke="#111" stroke-width="0.22">Current density = 2000 mA·g<tspan font-size="5" dy="-2.8">-1</tspan></text>
<text x="425.5" y="227.5" font-size="7.35" fill="#111" stroke="#111" stroke-width="0.22">Capacity retention~60%</text>
</svg></body></html>
